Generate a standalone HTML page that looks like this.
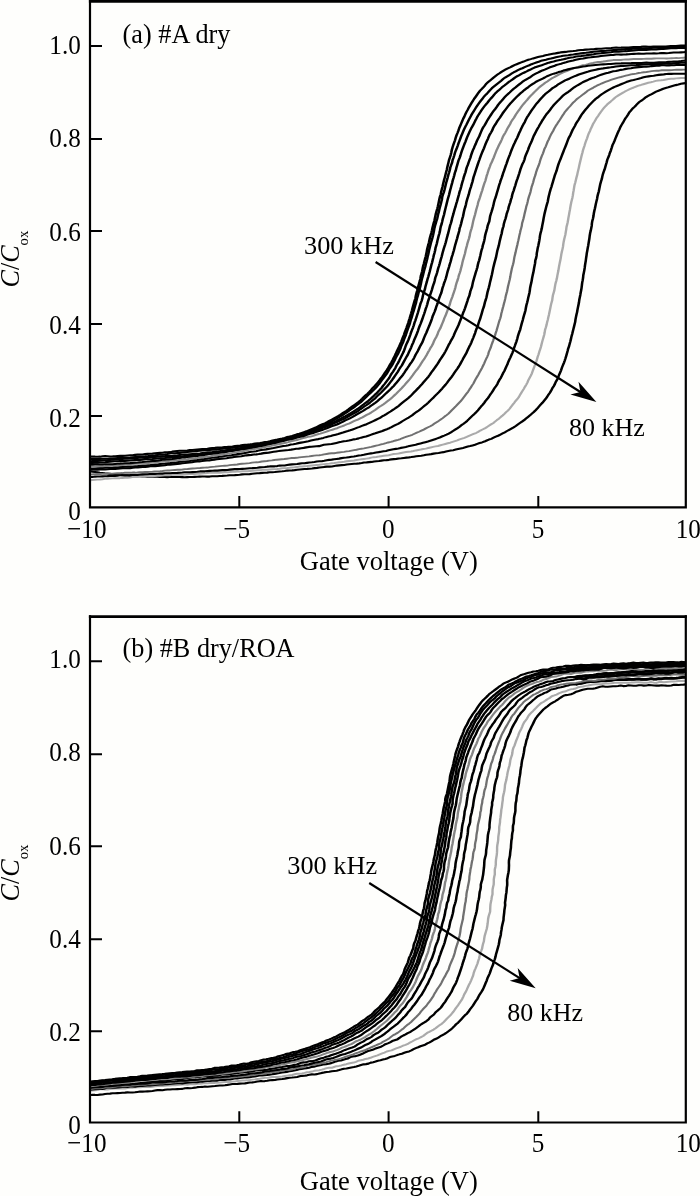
<!DOCTYPE html>
<html lang="en">
<head>
<meta charset="utf-8">
<title>C-V curves</title>
<style>
html,body{margin:0;padding:0;background:#fefefc;}
body{width:700px;height:1196px;overflow:hidden;position:relative;font-family:"Liberation Serif",serif;color:#000;}
svg{position:absolute;left:0;top:0;display:block;}
text{font-family:"Liberation Serif",serif;fill:#000;}
.fr{fill:none;stroke:#000;stroke-width:2.2;}
.fr2{fill:none;stroke:#000;stroke-width:2.7;}
.tk{stroke:#000;stroke-width:2;fill:none;}
.cv path{fill:none;stroke-linejoin:round;stroke-linecap:butt;}
.it{font-style:italic;}
</style>
</head>
<body>
<svg width="700" height="1196" viewBox="0 0 700 1196">
<rect x="0" y="0" width="700" height="1196" fill="#fefefc"/>
<g class="cv">
<g transform="scale(1,0.820)">
<path d="M90.0,574.8 L92.5,575.4 L95.0,575.7 L97.5,576.1 L99.9,576.5 L102.4,576.8 L104.9,577.2 L107.4,577.4 L109.9,577.9 L112.4,578.4 L114.9,578.6 L117.4,578.8 L119.8,579.1 L122.3,579.4 L124.8,579.6 L127.3,579.7 L129.8,580.0 L132.3,580.3 L134.8,580.5 L137.3,580.6 L139.8,580.8 L142.3,581.1 L144.8,581.1 L147.3,581.4 L149.7,581.5 L152.3,581.4 L154.7,581.4 L157.2,581.4 L159.7,581.6 L162.2,581.8 L164.7,581.7 L167.2,581.9 L169.7,581.8 L172.2,581.8 L174.7,581.8 L177.2,581.7 L179.7,581.7 L182.2,581.9 L184.7,582.1 L187.2,581.9 L189.7,581.8 L192.2,581.7 L194.7,581.6 L197.2,581.5 L199.7,581.2 L202.2,581.0 L204.7,581.1 L207.2,581.3 L209.7,581.2 L212.2,580.8 L214.7,580.8 L217.2,580.7 L219.7,580.4 L222.2,580.3 L224.7,580.1 L227.2,579.9 L229.7,579.6 L232.2,579.5 L234.7,579.4 L237.2,579.2 L239.7,579.0 L242.2,578.5 L244.7,578.3 L247.2,578.4 L249.7,578.2 L252.2,577.7 L254.7,577.4 L257.2,577.1 L259.7,577.0 L262.2,576.7 L264.7,576.6 L267.2,576.4 L269.7,576.0 L272.2,575.9 L274.7,575.7 L277.2,575.3 L279.7,574.9 L282.2,574.7 L284.6,574.4 L287.1,573.9 L289.6,573.7 L292.1,573.6 L294.6,573.3 L297.1,572.9 L299.6,572.5 L302.1,572.2 L304.5,571.9 L307.0,571.8 L309.5,571.6 L312.0,571.3 L314.5,570.9 L317.0,570.6 L319.5,570.2 L321.9,569.8 L324.4,569.4 L326.9,569.1 L329.4,569.1 L331.9,568.8 L334.4,568.3 L336.8,567.8 L339.3,567.5 L341.8,567.2 L344.3,567.0 L346.8,566.5 L349.2,566.2 L351.7,565.9 L354.2,565.6 L356.7,565.4 L359.2,565.1 L361.7,564.7 L364.1,564.1 L366.6,563.9 L369.1,563.6 L371.6,563.3 L374.1,562.7 L376.5,562.4 L379.0,562.1 L381.5,561.7 L384.0,561.3 L386.5,561.1 L389.0,560.8 L391.4,560.2 L393.9,559.9 L396.4,559.6 L398.9,559.2 L401.4,558.9 L403.9,558.5 L406.4,558.1 L408.9,557.8 L411.3,557.4 L413.8,556.9 L416.3,556.4 L418.8,556.0 L421.3,555.7 L423.8,555.2 L426.2,554.6 L428.7,554.2 L431.2,553.8 L433.6,553.2 L436.1,552.8 L438.6,552.4 L441.1,551.9 L443.5,551.4 L446.0,550.7 L448.4,550.1 L450.8,549.5 L453.3,549.0 L455.7,548.3 L458.1,547.6 L460.6,546.9 L463.0,546.2 L465.4,545.4 L467.8,544.6 L470.2,544.0 L472.6,543.2 L475.0,542.4 L477.3,541.3 L479.6,540.3 L482.0,539.5 L484.4,538.5 L486.7,537.2 L488.9,536.1 L491.3,535.2 L493.6,533.8 L495.8,532.5 L498.1,531.4 L500.4,530.0 L502.6,528.6 L504.8,527.2 L507.0,525.6 L509.2,524.1 L511.4,522.6 L513.6,521.1 L515.8,519.5 L517.8,517.7 L519.9,515.9 L522.0,514.2 L524.1,512.4 L526.0,510.4 L528.0,508.4 L530.0,506.5 L531.9,504.4 L533.8,502.4 L535.6,500.3 L537.4,498.1 L539.0,495.7 L540.6,493.4 L542.4,491.2 L544.0,488.9 L545.6,486.5 L547.1,484.0 L548.4,481.4 L549.9,478.9 L551.2,476.3 L552.3,473.6 L553.7,471.0 L554.9,468.3 L555.9,465.5 L557.2,462.9 L558.2,460.1 L559.1,457.1 L560.1,454.3 L561.1,451.5 L561.9,448.5 L562.8,445.7 L563.8,442.8 L564.7,439.9 L565.5,436.9 L566.2,434.0 L566.9,431.0 L567.6,428.0 L568.2,425.1 L569.1,422.1 L569.7,419.2 L570.4,416.2 L571.0,413.2 L571.5,410.3 L572.2,407.3 L572.8,404.3 L573.4,401.4 L574.0,398.4 L574.6,395.5 L575.2,392.5 L575.5,389.5 L576.0,386.5 L576.5,383.5 L577.1,380.6 L577.5,377.6 L578.0,374.6 L578.5,371.6 L579.0,368.6 L579.3,365.6 L579.8,362.7 L580.3,359.7 L580.7,356.7 L581.2,353.7 L581.6,350.7 L581.9,347.7 L582.2,344.7 L582.7,341.7 L583.1,338.7 L583.3,335.7 L583.8,332.7 L584.3,329.7 L584.7,326.7 L585.0,323.7 L585.4,320.7 L585.8,317.7 L586.1,314.7 L586.5,311.7 L586.8,308.6 L587.3,305.6 L587.7,302.6 L588.2,299.6 L588.6,296.6 L589.0,293.6 L589.4,290.6 L589.7,287.5 L590.1,284.5 L590.7,281.5 L591.2,278.5 L591.7,275.5 L591.9,272.4 L592.3,269.4 L593.0,266.4 L593.5,263.4 L593.8,260.4 L594.3,257.3 L594.9,254.3 L595.4,251.3 L595.9,248.3 L596.5,245.3 L597.1,242.3 L597.5,239.3 L598.1,236.3 L598.8,233.4 L599.3,230.3 L599.8,227.3 L600.3,224.3 L601.0,221.4 L601.8,218.4 L602.3,215.4 L602.9,212.4 L603.7,209.5 L604.6,206.6 L605.3,203.7 L606.0,200.7 L606.7,197.8 L607.3,194.8 L608.3,191.9 L609.2,189.1 L610.0,186.1 L610.9,183.3 L611.7,180.3 L612.4,177.4 L613.5,174.6 L614.5,171.8 L615.4,168.9 L616.4,166.1 L617.3,163.3 L618.3,160.5 L619.4,157.7 L620.4,154.9 L621.6,152.3 L622.9,149.8 L624.1,147.1 L625.3,144.6 L626.8,142.1 L628.1,139.7 L629.3,137.1 L630.9,134.9 L632.4,132.6 L634.2,130.6 L635.9,128.6 L637.6,126.4 L639.3,124.4 L641.4,122.8 L643.3,121.0 L645.2,119.1 L647.3,117.5 L649.5,116.1 L651.7,114.7 L653.9,113.2 L656.1,111.7 L658.5,110.6 L660.9,109.5 L663.3,108.2 L665.7,107.3 L668.3,106.5 L670.8,105.5 L673.3,104.6 L675.8,103.8 L678.4,103.1 L681.0,102.2 L683.6,101.7 L686.2,101.2" stroke="#000" stroke-width="2.55"/>
<path d="M90.0,585.6 L92.5,585.3 L95.0,585.0 L97.5,584.9 L100.0,584.8 L102.5,584.5 L104.9,584.0 L107.4,583.8 L109.9,583.6 L112.4,583.4 L114.9,583.3 L117.4,583.2 L119.9,583.1 L122.4,582.8 L124.9,582.7 L127.4,582.7 L129.9,582.3 L132.4,581.8 L134.8,581.6 L137.4,581.6 L139.8,581.2 L142.3,581.1 L144.8,581.1 L147.3,580.8 L149.8,580.7 L152.3,580.7 L154.8,580.5 L157.3,580.2 L159.8,580.1 L162.3,579.8 L164.8,579.7 L167.3,579.7 L169.8,579.5 L172.3,579.1 L174.8,579.0 L177.3,578.9 L179.8,578.7 L182.3,578.9 L184.8,578.7 L187.3,578.3 L189.8,578.0 L192.3,578.1 L194.8,578.0 L197.3,577.8 L199.8,577.8 L202.3,577.5 L204.8,577.3 L207.3,577.0 L209.8,576.7 L212.3,576.4 L214.8,576.5 L217.3,576.5 L219.8,576.4 L222.3,576.2 L224.8,576.0 L227.3,575.9 L229.8,575.7 L232.3,575.4 L234.8,575.2 L237.3,575.1 L239.8,575.0 L242.3,574.8 L244.8,574.8 L247.3,574.6 L249.8,574.3 L252.3,574.1 L254.8,573.7 L257.3,573.5 L259.8,573.4 L262.2,573.0 L264.7,572.9 L267.2,572.8 L269.7,572.5 L272.2,572.3 L274.7,572.1 L277.2,572.0 L279.7,571.6 L282.2,571.1 L284.7,570.9 L287.2,570.8 L289.6,570.5 L292.1,570.1 L294.6,569.9 L297.1,569.4 L299.5,569.0 L302.0,568.9 L304.5,568.6 L307.0,568.4 L309.5,567.9 L312.0,567.6 L314.4,567.3 L316.9,567.0 L319.4,566.7 L321.9,566.3 L324.4,566.0 L326.8,565.7 L329.3,565.4 L331.8,565.0 L334.3,564.7 L336.7,564.2 L339.2,563.8 L341.7,563.5 L344.2,563.1 L346.6,562.6 L349.1,562.1 L351.6,561.8 L354.1,561.6 L356.5,561.0 L359.0,560.5 L361.5,560.1 L364.0,559.7 L366.4,559.3 L368.9,558.9 L371.3,558.1 L373.8,557.5 L376.3,557.2 L378.8,556.8 L381.2,556.3 L383.7,555.8 L386.2,555.5 L388.7,555.2 L391.1,554.4 L393.6,553.7 L396.1,553.5 L398.6,553.0 L401.0,552.4 L403.5,551.8 L406.0,551.3 L408.5,550.9 L411.0,550.6 L413.4,550.0 L415.9,549.3 L418.3,548.7 L420.8,548.2 L423.3,547.6 L425.8,547.1 L428.2,546.4 L430.6,545.7 L433.1,545.0 L435.5,544.4 L438.0,543.9 L440.4,543.0 L442.8,542.2 L445.3,541.4 L447.7,540.6 L450.2,539.9 L452.5,538.9 L454.9,538.0 L457.3,537.1 L459.6,535.9 L462.0,534.9 L464.4,533.9 L466.7,532.8 L469.0,531.6 L471.3,530.4 L473.6,529.2 L476.0,528.1 L478.2,526.7 L480.3,525.1 L482.5,523.8 L484.8,522.5 L486.9,520.9 L488.9,519.1 L491.0,517.5 L493.1,516.1 L495.0,514.2 L496.9,512.3 L498.9,510.6 L500.7,508.6 L502.6,506.7 L504.4,504.7 L506.1,502.6 L507.9,500.7 L509.6,498.5 L511.1,496.1 L512.5,493.8 L514.1,491.4 L515.5,489.1 L517.2,486.8 L518.7,484.5 L519.9,481.9 L521.2,479.3 L522.5,476.7 L523.8,474.2 L525.0,471.6 L526.3,469.0 L527.5,466.3 L528.4,463.5 L529.6,460.8 L530.8,458.1 L531.9,455.3 L532.7,452.4 L533.6,449.6 L534.5,446.7 L535.4,443.8 L536.3,440.9 L537.0,438.0 L537.7,435.0 L538.6,432.1 L539.3,429.1 L540.1,426.2 L540.9,423.2 L541.5,420.2 L542.1,417.2 L542.8,414.2 L543.5,411.2 L544.2,408.2 L544.7,405.2 L545.1,402.1 L545.9,399.1 L546.6,396.1 L547.1,393.1 L547.8,390.1 L548.3,387.1 L548.9,384.1 L549.4,381.1 L549.9,378.1 L550.4,375.1 L550.9,372.1 L551.5,369.1 L552.2,366.2 L552.5,363.2 L552.9,360.1 L553.6,357.2 L554.3,354.3 L554.7,351.3 L555.1,348.3 L555.6,345.3 L556.3,342.4 L556.9,339.4 L557.3,336.4 L557.8,333.4 L558.3,330.5 L558.7,327.5 L559.1,324.5 L559.6,321.5 L560.1,318.6 L560.6,315.6 L561.0,312.6 L561.4,309.6 L561.9,306.7 L562.5,303.8 L563.0,300.8 L563.3,297.8 L563.7,294.8 L564.2,291.8 L564.8,288.9 L565.4,285.9 L565.8,282.9 L566.2,280.0 L566.5,276.9 L567.1,274.0 L567.7,271.0 L568.1,268.0 L568.5,265.0 L569.0,262.0 L569.4,259.0 L569.9,256.0 L570.3,253.0 L570.7,250.0 L571.2,247.0 L571.8,244.1 L572.4,241.1 L572.9,238.0 L573.2,235.0 L573.7,232.0 L574.1,228.9 L574.5,225.9 L575.2,222.9 L575.8,219.9 L576.4,216.8 L577.1,213.8 L577.6,210.8 L578.2,207.7 L578.8,204.7 L579.3,201.6 L579.9,198.5 L580.5,195.4 L581.1,192.4 L581.7,189.3 L582.4,186.3 L583.0,183.2 L583.8,180.3 L584.6,177.3 L585.3,174.3 L586.2,171.4 L587.1,168.5 L587.9,165.5 L588.8,162.6 L589.9,159.9 L590.8,157.1 L591.9,154.3 L592.9,151.6 L594.2,149.0 L595.4,146.4 L596.6,143.8 L598.1,141.4 L599.4,138.9 L600.8,136.5 L602.3,134.2 L603.8,131.8 L605.4,129.6 L607.1,127.5 L608.9,125.6 L610.8,123.7 L612.6,121.8 L614.4,119.8 L616.3,117.9 L618.4,116.3 L620.5,114.8 L622.6,113.3 L624.7,111.8 L627.0,110.4 L629.2,109.1 L631.5,107.8 L633.8,106.7 L636.1,105.5 L638.5,104.4 L641.0,103.6 L643.4,102.7 L645.9,101.8 L648.3,100.9 L650.8,100.3 L653.3,99.5 L655.8,98.6 L658.4,98.1 L661.0,97.9 L663.5,97.5 L666.1,96.9 L668.6,96.4 L671.1,96.1 L673.7,96.0 L676.2,95.6 L678.7,95.3 L681.1,95.1 L683.6,95.1 L686.0,95.0" stroke="#aaaaaa" stroke-width="2.40"/>
<path d="M90.0,581.7 L92.5,581.6 L95.0,581.2 L97.5,581.1 L100.0,581.0 L102.5,580.9 L105.0,580.8 L107.5,580.6 L109.9,580.3 L112.4,580.3 L114.9,580.3 L117.4,580.0 L119.9,579.6 L122.4,579.5 L124.9,579.7 L127.4,579.6 L129.9,579.4 L132.4,579.1 L134.9,578.9 L137.4,578.9 L139.9,578.7 L142.4,578.5 L144.9,578.4 L147.4,578.3 L149.9,578.1 L152.4,577.9 L154.9,577.9 L157.4,577.7 L159.9,577.6 L162.4,577.6 L164.9,577.2 L167.4,577.1 L169.9,577.1 L172.4,576.9 L174.9,576.8 L177.4,576.7 L179.9,576.5 L182.4,576.3 L184.9,575.9 L187.4,575.9 L189.9,576.0 L192.4,575.8 L194.9,575.6 L197.4,575.3 L199.9,574.9 L202.4,574.8 L204.9,574.8 L207.4,574.5 L209.9,574.2 L212.4,574.0 L214.9,573.9 L217.4,573.9 L219.9,573.6 L222.4,573.3 L224.9,573.3 L227.4,573.2 L229.9,572.7 L232.4,572.4 L234.8,572.1 L237.4,572.1 L239.9,572.0 L242.3,571.8 L244.9,571.7 L247.3,571.3 L249.8,571.0 L252.3,570.9 L254.8,570.7 L257.3,570.4 L259.8,570.0 L262.3,569.8 L264.8,569.6 L267.2,569.1 L269.7,568.8 L272.2,568.8 L274.7,568.7 L277.2,568.4 L279.7,567.8 L282.2,567.7 L284.7,567.6 L287.1,567.1 L289.6,566.6 L292.1,566.3 L294.6,566.2 L297.1,565.9 L299.5,565.4 L302.0,565.0 L304.5,564.9 L307.0,564.5 L309.4,564.1 L311.9,563.8 L314.4,563.4 L316.8,562.9 L319.3,562.6 L321.8,562.4 L324.3,561.9 L326.7,561.3 L329.2,560.8 L331.7,560.5 L334.1,560.1 L336.6,559.7 L339.1,559.3 L341.5,558.7 L344.0,558.3 L346.5,558.0 L348.9,557.5 L351.4,557.0 L353.9,556.7 L356.4,556.2 L358.8,555.5 L361.3,555.1 L363.8,554.6 L366.2,554.0 L368.7,553.4 L371.1,552.9 L373.6,552.4 L376.1,551.8 L378.6,551.4 L381.0,550.9 L383.5,550.4 L386.0,549.9 L388.4,549.2 L390.9,548.5 L393.4,547.9 L395.9,547.4 L398.4,546.9 L400.8,546.2 L403.3,545.6 L405.8,545.0 L408.2,544.3 L410.7,543.5 L413.2,542.9 L415.7,542.4 L418.1,541.6 L420.6,540.8 L423.0,540.0 L425.4,539.2 L427.9,538.4 L430.3,537.5 L432.6,536.6 L435.0,535.6 L437.3,534.6 L439.7,533.6 L441.9,532.3 L444.2,531.2 L446.5,530.0 L448.7,528.7 L450.9,527.2 L453.0,525.6 L455.1,524.0 L457.2,522.4 L459.2,520.7 L461.1,518.8 L463.2,517.1 L465.2,515.3 L467.1,513.3 L468.9,511.2 L470.7,509.0 L472.5,506.9 L474.4,504.8 L476.2,502.7 L477.9,500.4 L479.5,498.1 L481.1,495.7 L482.8,493.4 L484.4,491.0 L485.8,488.5 L487.5,486.2 L489.0,483.7 L490.3,481.1 L491.8,478.6 L493.1,476.1 L494.4,473.5 L495.9,471.0 L497.3,468.5 L498.3,465.8 L499.5,463.1 L500.9,460.6 L502.0,457.9 L503.0,455.2 L504.3,452.6 L505.3,449.8 L506.3,447.1 L507.4,444.4 L508.2,441.5 L509.2,438.8 L510.3,436.1 L511.3,433.3 L512.3,430.6 L513.2,427.8 L513.9,424.9 L514.8,422.0 L515.6,419.2 L516.5,416.3 L517.2,413.4 L517.8,410.5 L518.5,407.6 L519.3,404.7 L520.2,401.9 L520.8,398.9 L521.4,396.0 L522.1,393.0 L522.8,390.1 L523.4,387.1 L524.1,384.2 L524.8,381.3 L525.5,378.3 L525.9,375.3 L526.4,372.3 L527.1,369.3 L527.7,366.3 L528.2,363.3 L528.8,360.3 L529.4,357.3 L529.8,354.3 L530.1,351.2 L530.6,348.2 L531.2,345.2 L531.7,342.2 L532.1,339.1 L532.6,336.1 L533.2,333.0 L533.7,330.0 L534.1,326.9 L534.6,323.9 L535.1,320.9 L535.3,317.8 L536.1,314.8 L536.6,311.8 L536.8,308.7 L537.3,305.6 L537.7,302.6 L538.3,299.6 L538.8,296.6 L539.3,293.5 L539.7,290.5 L540.0,287.4 L540.5,284.4 L541.2,281.4 L541.8,278.4 L542.2,275.4 L542.7,272.4 L543.2,269.3 L543.6,266.3 L544.1,263.3 L544.6,260.3 L545.2,257.4 L545.8,254.4 L546.4,251.4 L547.1,248.5 L547.8,245.6 L548.2,242.6 L548.7,239.6 L549.3,236.7 L549.9,233.7 L550.6,230.8 L551.4,228.0 L552.1,225.1 L552.8,222.2 L553.5,219.3 L554.2,216.4 L554.9,213.5 L555.8,210.6 L556.7,207.8 L557.3,204.9 L558.0,202.0 L558.8,199.1 L559.7,196.3 L560.7,193.4 L561.6,190.6 L562.5,187.7 L563.4,184.9 L564.3,182.0 L565.3,179.1 L566.2,176.3 L567.1,173.4 L568.0,170.4 L569.0,167.6 L570.3,164.9 L571.3,162.1 L572.3,159.2 L573.5,156.5 L574.8,153.8 L575.9,151.0 L577.2,148.4 L578.6,145.9 L579.9,143.2 L581.2,140.6 L582.6,138.2 L584.1,135.8 L585.7,133.4 L587.3,131.2 L588.9,128.9 L590.6,126.7 L592.3,124.6 L594.0,122.5 L595.8,120.5 L597.8,118.8 L599.7,116.9 L601.7,115.0 L603.7,113.4 L605.8,111.7 L608.0,110.2 L610.2,108.8 L612.3,107.3 L614.6,105.9 L616.9,104.8 L619.3,103.7 L621.6,102.5 L623.9,101.3 L626.3,100.1 L628.7,99.1 L631.1,98.2 L633.6,97.6 L636.1,96.8 L638.6,96.0 L641.1,95.2 L643.5,94.3 L646.0,93.5 L648.6,93.1 L651.1,92.7 L653.7,92.4 L656.2,91.8 L658.7,91.3 L661.3,91.0 L663.8,90.7 L666.3,90.3 L668.8,90.1 L671.3,90.1 L673.8,89.9 L676.3,89.9 L678.7,89.9 L681.2,89.9 L683.6,90.0 L686.0,89.9" stroke="#000" stroke-width="2.55"/>
<path d="M90.0,578.5 L92.5,578.4 L95.0,578.2 L97.5,578.0 L100.0,578.0 L102.4,577.9 L104.9,577.7 L107.4,577.6 L109.9,577.6 L112.4,577.6 L114.9,577.3 L117.4,577.1 L119.9,577.2 L122.4,576.9 L124.9,576.5 L127.4,576.5 L129.9,576.5 L132.4,576.3 L134.9,576.3 L137.4,576.1 L140.0,575.8 L142.5,575.7 L145.0,575.6 L147.5,575.6 L150.0,575.5 L152.5,575.2 L155.0,574.8 L157.5,574.8 L160.0,574.7 L162.5,574.4 L165.0,574.0 L167.5,573.8 L170.0,573.7 L172.5,573.4 L175.0,573.1 L177.5,572.9 L180.0,572.8 L182.5,572.5 L185.0,572.1 L187.5,572.0 L190.0,571.7 L192.5,571.4 L195.0,571.2 L197.5,570.9 L200.0,570.8 L202.5,570.5 L204.9,570.3 L207.4,570.2 L209.9,569.7 L212.4,569.3 L214.9,569.1 L217.3,568.7 L219.8,568.4 L222.3,568.2 L224.8,568.0 L227.3,567.8 L229.7,567.3 L232.2,566.9 L234.7,566.7 L237.2,566.5 L239.6,565.9 L242.1,565.6 L244.6,565.4 L247.1,565.1 L249.6,564.8 L252.0,564.2 L254.5,563.9 L257.0,563.8 L259.5,563.4 L261.9,562.8 L264.4,562.5 L266.9,562.2 L269.3,561.7 L271.8,561.4 L274.3,561.0 L276.8,560.6 L279.3,560.3 L281.7,560.0 L284.2,559.8 L286.7,559.4 L289.2,559.0 L291.7,558.6 L294.2,558.5 L296.7,558.3 L299.2,557.8 L301.7,557.5 L304.2,557.2 L306.7,556.9 L309.2,556.6 L311.7,556.1 L314.1,555.6 L316.7,555.4 L319.2,555.2 L321.7,554.8 L324.1,554.1 L326.6,553.6 L329.1,553.1 L331.6,552.8 L334.1,552.7 L336.6,552.2 L339.1,551.8 L341.6,551.4 L344.1,551.0 L346.6,550.5 L349.1,550.1 L351.6,549.5 L354.1,549.0 L356.5,548.5 L359.0,547.8 L361.5,547.3 L363.9,546.8 L366.4,546.2 L368.9,545.6 L371.3,545.0 L373.8,544.2 L376.2,543.4 L378.6,542.8 L381.1,542.0 L383.5,541.3 L385.9,540.5 L388.3,539.6 L390.8,538.9 L393.2,538.1 L395.6,537.2 L398.0,536.4 L400.4,535.4 L402.7,534.2 L405.1,533.2 L407.5,532.1 L409.9,531.2 L412.3,530.2 L414.5,528.9 L416.8,527.6 L419.1,526.5 L421.4,525.2 L423.7,523.9 L425.9,522.4 L428.1,521.1 L430.3,519.8 L432.5,518.2 L434.5,516.5 L436.6,514.9 L438.7,513.3 L440.7,511.6 L442.7,509.9 L444.6,508.0 L446.6,506.2 L448.5,504.4 L450.2,502.3 L451.9,500.1 L453.7,498.0 L455.4,496.0 L457.1,493.8 L458.8,491.6 L460.5,489.5 L462.1,487.1 L463.6,484.8 L465.1,482.4 L466.6,480.0 L468.1,477.6 L469.4,475.1 L470.8,472.6 L472.1,470.0 L473.5,467.5 L474.6,464.8 L475.8,462.1 L477.1,459.5 L478.4,456.9 L479.5,454.2 L480.7,451.6 L481.9,448.9 L483.0,446.1 L484.1,443.4 L485.1,440.6 L486.1,437.8 L487.2,435.1 L488.2,432.3 L488.8,429.3 L489.8,426.5 L490.8,423.7 L491.5,420.7 L492.4,417.8 L493.3,415.0 L494.1,412.0 L495.0,409.2 L495.7,406.2 L496.5,403.3 L497.2,400.3 L497.9,397.4 L498.6,394.4 L499.3,391.4 L500.2,388.5 L500.9,385.5 L501.3,382.5 L502.0,379.5 L502.6,376.5 L503.3,373.5 L503.9,370.5 L504.6,367.5 L505.2,364.5 L505.7,361.5 L506.3,358.5 L507.0,355.5 L507.5,352.5 L508.0,349.4 L508.6,346.5 L509.2,343.5 L509.8,340.5 L510.3,337.5 L510.7,334.4 L511.2,331.4 L511.7,328.4 L512.3,325.5 L513.0,322.5 L513.6,319.6 L514.0,316.6 L514.4,313.6 L515.0,310.6 L515.6,307.7 L516.1,304.7 L516.7,301.8 L517.3,298.8 L517.8,295.9 L518.4,292.9 L518.9,290.0 L519.4,287.0 L520.0,284.1 L520.5,281.1 L521.2,278.2 L521.8,275.3 L522.1,272.3 L522.8,269.4 L523.5,266.5 L524.1,263.5 L524.6,260.6 L525.2,257.6 L525.8,254.7 L526.3,251.7 L527.1,248.8 L527.7,245.9 L528.2,242.9 L528.9,239.9 L529.7,237.1 L530.5,234.1 L531.0,231.2 L531.6,228.2 L532.4,225.3 L533.2,222.3 L533.8,219.3 L534.5,216.4 L535.4,213.5 L536.0,210.5 L536.8,207.5 L537.7,204.6 L538.7,201.7 L539.5,198.7 L540.2,195.8 L541.0,192.8 L541.9,189.9 L543.0,187.0 L543.8,184.1 L544.6,181.2 L545.8,178.4 L546.7,175.5 L547.6,172.7 L548.8,169.9 L549.8,167.1 L550.9,164.3 L552.1,161.7 L553.4,159.1 L554.5,156.3 L555.7,153.7 L557.1,151.2 L558.4,148.7 L559.8,146.2 L561.1,143.7 L562.4,141.2 L563.8,138.7 L565.1,136.2 L566.7,134.0 L568.3,131.7 L570.0,129.6 L571.5,127.4 L573.1,125.2 L574.9,123.2 L576.6,121.1 L578.5,119.3 L580.5,117.5 L582.4,115.7 L584.3,114.0 L586.2,112.2 L588.1,110.3 L590.3,108.9 L592.5,107.5 L594.6,105.9 L596.8,104.5 L599.1,103.3 L601.4,101.9 L603.7,100.7 L606.1,99.6 L608.5,98.5 L610.9,97.5 L613.3,96.5 L615.8,95.5 L618.3,94.6 L620.8,93.9 L623.3,93.1 L625.8,92.3 L628.4,91.5 L630.9,90.7 L633.5,90.3 L636.1,89.7 L638.7,89.0 L641.2,88.6 L643.8,88.1 L646.4,87.8 L649.0,87.3 L651.6,86.8 L654.1,86.5 L656.7,86.3 L659.3,86.2 L661.8,85.7 L664.3,85.5 L666.8,85.6 L669.3,85.6 L671.8,85.5 L674.2,85.2 L676.6,85.0 L679.0,85.1 L681.3,85.0 L683.6,84.9 L685.9,84.9" stroke="#707070" stroke-width="2.30"/>
<path d="M89.9,572.9 L92.4,572.8 L95.0,572.9 L97.5,572.7 L100.1,572.6 L102.6,572.6 L105.1,572.5 L107.7,572.3 L110.2,572.0 L112.7,571.8 L115.2,571.8 L117.7,571.7 L120.2,571.3 L122.8,571.1 L125.3,571.1 L127.8,571.0 L130.3,570.9 L132.8,570.5 L135.3,570.2 L137.8,570.0 L140.2,569.7 L142.7,569.5 L145.2,569.4 L147.7,569.2 L150.2,568.7 L152.7,568.4 L155.1,568.4 L157.6,568.1 L160.1,567.8 L162.6,567.7 L165.0,567.3 L167.5,566.8 L170.0,566.6 L172.4,566.3 L174.9,566.0 L177.4,565.7 L179.8,565.4 L182.3,565.0 L184.8,564.7 L187.2,564.3 L189.7,564.0 L192.1,563.7 L194.6,563.2 L197.1,562.9 L199.5,562.7 L202.0,562.3 L204.4,561.8 L206.9,561.5 L209.4,561.4 L211.8,561.0 L214.3,560.6 L216.7,560.1 L219.2,559.7 L221.7,559.3 L224.1,559.1 L226.6,558.8 L229.1,558.3 L231.5,557.8 L234.0,557.2 L236.4,556.9 L238.9,556.7 L241.4,556.4 L243.9,555.9 L246.3,555.3 L248.8,555.0 L251.3,554.7 L253.8,554.3 L256.3,554.1 L258.7,553.7 L261.2,553.2 L263.7,552.6 L266.2,552.3 L268.7,552.0 L271.1,551.5 L273.6,551.0 L276.1,550.5 L278.6,550.1 L281.1,549.6 L283.6,549.3 L286.1,549.0 L288.6,548.7 L291.2,548.3 L293.7,547.8 L296.2,547.3 L298.7,547.1 L301.2,546.6 L303.7,546.2 L306.3,545.6 L308.8,545.0 L311.3,544.8 L313.9,544.5 L316.4,544.3 L319.0,544.1 L321.4,543.2 L323.9,542.4 L326.5,542.1 L329.0,541.8 L331.5,541.5 L334.0,540.8 L336.5,540.1 L339.0,539.4 L341.4,538.8 L343.9,538.1 L346.4,537.8 L348.9,537.3 L351.4,536.5 L353.8,535.8 L356.3,535.3 L358.7,534.6 L361.1,533.7 L363.5,532.9 L366.0,532.2 L368.3,531.3 L370.7,530.3 L373.0,529.3 L375.4,528.4 L377.7,527.4 L380.1,526.5 L382.4,525.6 L384.7,524.4 L387.0,523.4 L389.3,522.2 L391.5,520.9 L393.7,519.5 L395.8,518.1 L398.1,516.9 L400.2,515.4 L402.3,513.7 L404.4,512.2 L406.5,510.7 L408.7,509.2 L410.7,507.6 L412.8,505.9 L414.7,504.0 L416.7,502.2 L418.8,500.6 L420.7,498.7 L422.6,496.8 L424.5,494.9 L426.5,493.0 L428.3,491.0 L430.0,488.8 L431.8,486.7 L433.6,484.7 L435.3,482.5 L437.1,480.4 L438.9,478.2 L440.5,476.0 L442.2,473.8 L443.8,471.4 L445.5,469.2 L447.1,466.8 L448.5,464.3 L450.0,462.0 L451.6,459.6 L453.1,457.1 L454.4,454.6 L455.8,452.1 L457.3,449.6 L458.7,447.1 L460.0,444.5 L461.2,441.8 L462.4,439.2 L463.5,436.5 L464.8,433.8 L466.1,431.2 L467.1,428.5 L468.1,425.7 L469.2,422.9 L470.4,420.3 L471.4,417.5 L472.3,414.7 L473.3,411.9 L474.2,409.0 L475.1,406.2 L475.8,403.3 L476.7,400.5 L477.8,397.7 L478.4,394.7 L479.2,391.8 L480.1,388.9 L480.8,386.0 L481.5,383.1 L482.2,380.1 L482.9,377.2 L483.8,374.3 L484.4,371.3 L485.0,368.3 L485.8,365.4 L486.5,362.4 L487.0,359.4 L487.5,356.4 L488.2,353.4 L488.9,350.4 L489.5,347.4 L490.0,344.4 L490.6,341.4 L491.2,338.4 L491.8,335.4 L492.3,332.4 L492.8,329.4 L493.3,326.4 L493.9,323.4 L494.5,320.4 L495.2,317.4 L495.9,314.4 L496.4,311.4 L496.9,308.4 L497.4,305.4 L498.1,302.5 L498.8,299.5 L499.3,296.5 L499.8,293.5 L500.4,290.6 L501.0,287.6 L501.7,284.7 L502.1,281.7 L502.7,278.7 L503.5,275.8 L503.9,272.8 L504.6,269.9 L505.4,267.0 L506.1,264.1 L506.6,261.1 L507.4,258.3 L508.2,255.4 L508.7,252.4 L509.5,249.5 L510.3,246.6 L510.9,243.7 L511.7,240.8 L512.2,237.8 L512.9,234.9 L513.8,232.0 L514.5,229.1 L515.3,226.2 L516.0,223.3 L516.7,220.4 L517.6,217.5 L518.4,214.6 L519.2,211.7 L519.9,208.8 L520.6,205.9 L521.5,203.0 L522.4,200.1 L523.6,197.4 L524.5,194.5 L525.1,191.5 L526.0,188.6 L527.0,185.8 L528.0,182.9 L528.8,180.0 L529.8,177.1 L530.9,174.3 L531.9,171.5 L532.8,168.6 L533.7,165.8 L534.9,163.1 L536.1,160.3 L537.2,157.6 L538.5,155.0 L539.7,152.3 L541.0,149.7 L542.2,147.1 L543.6,144.6 L544.9,142.0 L546.3,139.6 L547.9,137.3 L549.5,135.0 L550.9,132.5 L552.4,130.2 L553.9,127.9 L555.6,125.7 L557.3,123.6 L559.1,121.5 L560.8,119.4 L562.5,117.2 L564.4,115.3 L566.4,113.6 L568.4,112.0 L570.4,110.2 L572.3,108.3 L574.2,106.5 L576.3,104.9 L578.4,103.4 L580.5,101.9 L582.7,100.3 L584.9,99.1 L587.2,97.9 L589.4,96.6 L591.7,95.4 L594.1,94.5 L596.4,93.4 L598.7,92.2 L601.1,91.2 L603.5,90.2 L605.9,89.3 L608.4,88.6 L610.8,87.7 L613.3,87.0 L615.8,86.6 L618.3,85.9 L620.8,85.2 L623.4,84.7 L625.9,84.0 L628.4,83.6 L631.0,83.2 L633.5,82.6 L636.1,82.2 L638.6,81.9 L641.2,81.7 L643.8,81.4 L646.3,81.2 L648.9,81.0 L651.4,80.6 L654.0,80.3 L656.5,80.2 L659.1,80.0 L661.6,79.6 L664.1,79.6 L666.6,79.8 L669.1,79.7 L671.5,79.6 L674.0,79.5 L676.4,79.3 L678.8,79.2 L681.2,79.2 L683.6,79.2 L685.9,79.3" stroke="#000" stroke-width="2.55"/>
<path d="M89.9,571.1 L92.4,571.1 L95.0,571.0 L97.5,570.9 L100.1,570.8 L102.6,570.6 L105.1,570.3 L107.7,570.3 L110.2,570.4 L112.7,570.3 L115.3,570.0 L117.8,569.8 L120.3,569.6 L122.8,569.4 L125.3,569.2 L127.8,569.0 L130.3,569.0 L132.8,568.9 L135.3,568.6 L137.8,568.3 L140.3,567.9 L142.8,567.7 L145.3,567.6 L147.8,567.3 L150.3,567.1 L152.8,566.8 L155.2,566.6 L157.7,566.4 L160.2,565.9 L162.7,565.6 L165.1,565.4 L167.6,565.1 L170.1,564.8 L172.5,564.4 L175.0,564.2 L177.5,563.6 L179.9,563.1 L182.4,563.0 L184.9,562.8 L187.3,562.5 L189.8,562.2 L192.2,561.6 L194.7,561.2 L197.1,560.9 L199.6,560.5 L202.1,560.1 L204.5,559.8 L207.0,559.3 L209.4,558.7 L211.9,558.3 L214.3,558.1 L216.8,557.8 L219.2,557.1 L221.7,556.7 L224.2,556.2 L226.6,555.8 L229.1,555.5 L231.5,555.1 L234.0,554.6 L236.5,554.1 L238.9,553.5 L241.4,553.2 L243.9,552.7 L246.3,552.2 L248.7,551.5 L251.2,551.0 L253.7,550.7 L256.2,550.2 L258.6,549.5 L261.1,548.8 L263.6,548.5 L266.0,548.0 L268.5,547.4 L271.0,546.9 L273.5,546.4 L276.0,545.8 L278.4,545.2 L280.9,544.6 L283.4,544.0 L285.9,543.5 L288.4,542.9 L290.9,542.1 L293.4,541.7 L295.9,541.1 L298.4,540.4 L300.9,539.8 L303.4,539.2 L305.9,538.6 L308.4,538.0 L310.9,537.3 L313.4,536.6 L315.9,536.0 L318.4,535.5 L320.9,534.8 L323.4,534.0 L325.8,533.1 L328.3,532.4 L330.8,531.7 L333.2,530.9 L335.7,530.1 L338.2,529.3 L340.6,528.4 L343.0,527.5 L345.4,526.5 L347.8,525.7 L350.2,524.8 L352.6,523.8 L354.9,522.7 L357.3,521.5 L359.6,520.6 L361.9,519.4 L364.3,518.3 L366.6,517.3 L368.9,516.0 L371.1,514.7 L373.3,513.5 L375.6,512.2 L377.8,510.9 L380.0,509.6 L382.1,507.9 L384.2,506.5 L386.3,505.0 L388.4,503.4 L390.5,501.8 L392.5,500.2 L394.6,498.5 L396.6,496.8 L398.6,495.1 L400.5,493.1 L402.3,491.2 L404.2,489.3 L406.2,487.4 L408.1,485.6 L410.0,483.6 L411.7,481.5 L413.4,479.3 L415.2,477.2 L416.9,475.0 L418.6,472.9 L420.3,470.6 L422.0,468.4 L423.6,466.1 L425.2,463.8 L426.9,461.5 L428.5,459.2 L430.0,456.7 L431.3,454.2 L432.9,451.7 L434.3,449.3 L435.8,446.8 L437.3,444.3 L438.6,441.7 L439.9,439.1 L441.3,436.5 L442.7,434.0 L444.1,431.4 L445.3,428.8 L446.5,426.0 L447.6,423.3 L448.7,420.5 L450.0,417.9 L451.1,415.2 L452.4,412.5 L453.5,409.8 L454.5,406.9 L455.5,404.2 L456.6,401.4 L457.7,398.6 L458.7,395.9 L459.6,393.0 L460.5,390.2 L461.4,387.3 L462.3,384.5 L463.1,381.6 L464.1,378.8 L465.0,375.9 L465.8,373.0 L466.6,370.1 L467.4,367.2 L468.1,364.3 L469.1,361.5 L469.8,358.6 L470.3,355.5 L471.1,352.7 L472.0,349.8 L472.5,346.8 L473.0,343.8 L473.7,340.8 L474.4,337.9 L475.1,335.0 L475.8,332.0 L476.6,329.1 L477.3,326.2 L477.8,323.2 L478.4,320.2 L479.2,317.3 L479.8,314.3 L480.4,311.3 L480.9,308.3 L481.5,305.3 L482.3,302.4 L482.8,299.4 L483.5,296.5 L484.2,293.5 L484.7,290.5 L485.1,287.5 L485.7,284.5 L486.4,281.6 L487.1,278.7 L487.6,275.7 L488.4,272.7 L489.3,269.9 L489.7,266.9 L490.1,263.8 L490.8,260.9 L491.6,258.0 L492.3,255.1 L493.0,252.2 L493.6,249.2 L494.1,246.2 L494.8,243.3 L495.7,240.4 L496.4,237.5 L497.1,234.5 L497.8,231.6 L498.5,228.7 L499.2,225.7 L500.0,222.8 L500.7,219.9 L501.6,217.1 L502.4,214.2 L503.1,211.3 L504.0,208.4 L504.8,205.5 L505.6,202.6 L506.5,199.7 L507.3,196.8 L508.1,193.9 L509.0,191.1 L510.0,188.2 L510.8,185.3 L511.7,182.5 L512.7,179.6 L513.7,176.8 L514.8,174.0 L515.8,171.2 L517.0,168.4 L518.0,165.6 L519.0,162.7 L520.1,159.9 L521.1,157.1 L522.2,154.3 L523.4,151.6 L524.7,149.0 L525.7,146.1 L526.9,143.4 L528.3,140.9 L529.6,138.3 L531.0,135.8 L532.4,133.3 L533.9,130.8 L535.3,128.4 L536.8,126.0 L538.4,123.8 L540.0,121.5 L541.6,119.3 L543.3,117.1 L545.0,115.0 L546.9,113.2 L548.9,111.3 L550.7,109.4 L552.6,107.4 L554.7,106.0 L556.7,104.4 L558.7,102.5 L560.8,101.1 L563.0,99.6 L565.1,98.1 L567.4,96.9 L569.7,95.7 L571.9,94.4 L574.2,93.2 L576.5,92.1 L578.8,90.9 L581.2,89.9 L583.6,89.0 L586.0,88.1 L588.4,87.3 L590.9,86.4 L593.3,85.7 L595.8,85.0 L598.2,84.3 L600.7,83.8 L603.2,83.4 L605.8,82.9 L608.3,82.5 L610.8,82.1 L613.3,81.6 L615.8,81.1 L618.4,80.7 L620.9,80.5 L623.5,80.3 L626.0,80.2 L628.6,79.8 L631.1,79.5 L633.7,79.5 L636.2,79.4 L638.7,79.2 L641.3,78.8 L643.8,78.5 L646.3,78.3 L648.8,78.3 L651.3,78.1 L653.9,78.0 L656.4,77.9 L658.9,77.8 L661.4,77.9 L663.8,77.8 L666.3,77.7 L668.8,77.6 L671.3,77.6 L673.7,77.2 L676.2,77.0 L678.6,76.9 L681.1,76.6 L683.5,76.6 L685.9,76.5" stroke="#000" stroke-width="2.55"/>
<path d="M89.9,569.3 L92.5,569.5 L95.0,569.2 L97.5,568.9 L100.0,568.6 L102.6,568.5 L105.1,568.4 L107.6,568.1 L110.1,568.0 L112.6,567.8 L115.1,567.7 L117.6,567.6 L120.2,567.5 L122.6,567.1 L125.1,566.7 L127.6,566.3 L130.1,566.2 L132.6,566.0 L135.1,565.7 L137.6,565.5 L140.1,565.3 L142.6,565.2 L145.1,565.2 L147.6,564.9 L150.1,564.5 L152.5,564.1 L155.0,563.8 L157.5,563.6 L160.0,563.2 L162.5,562.9 L165.0,562.8 L167.4,562.5 L169.9,562.0 L172.4,561.8 L174.9,561.6 L177.3,561.4 L179.8,561.0 L182.3,560.6 L184.7,560.3 L187.2,560.1 L189.7,559.5 L192.1,559.3 L194.6,559.0 L197.1,558.6 L199.5,558.1 L202.0,557.5 L204.5,557.2 L206.9,556.9 L209.4,556.6 L211.9,556.1 L214.3,555.6 L216.8,555.2 L219.2,554.8 L221.7,554.5 L224.2,553.9 L226.6,553.6 L229.1,553.2 L231.6,552.6 L234.0,552.0 L236.5,551.4 L238.9,551.0 L241.4,550.6 L243.9,550.0 L246.3,549.4 L248.7,548.6 L251.2,548.1 L253.7,547.7 L256.1,547.2 L258.6,546.7 L261.1,546.4 L263.6,545.7 L266.0,545.0 L268.5,544.4 L271.0,543.8 L273.4,543.1 L275.9,542.4 L278.3,541.7 L280.8,541.1 L283.3,540.6 L285.8,539.9 L288.3,539.2 L290.7,538.3 L293.1,537.5 L295.6,536.9 L298.1,536.2 L300.6,535.3 L303.0,534.3 L305.5,533.5 L307.9,532.8 L310.5,532.4 L313.0,531.6 L315.3,530.5 L317.8,529.6 L320.3,528.8 L322.7,527.9 L325.1,526.9 L327.5,525.9 L329.9,524.9 L332.4,524.1 L334.8,523.1 L337.2,522.2 L339.5,521.0 L341.8,519.9 L344.2,518.9 L346.5,517.6 L348.9,516.6 L351.1,515.3 L353.4,514.0 L355.7,512.8 L357.9,511.6 L360.2,510.3 L362.4,509.0 L364.6,507.5 L366.7,506.0 L368.9,504.7 L371.1,503.2 L373.1,501.5 L375.1,499.9 L377.1,498.1 L379.1,496.4 L381.2,494.9 L383.2,493.3 L385.2,491.5 L387.1,489.7 L389.1,487.9 L391.0,486.0 L392.8,484.0 L394.5,482.0 L396.3,479.9 L398.0,477.8 L399.8,475.8 L401.5,473.6 L403.1,471.4 L404.8,469.3 L406.4,466.9 L408.0,464.7 L409.7,462.5 L411.2,460.1 L412.7,457.7 L414.1,455.2 L415.6,452.8 L417.2,450.5 L418.7,448.0 L420.1,445.5 L421.3,442.9 L422.7,440.3 L424.2,437.9 L425.5,435.2 L426.8,432.6 L427.9,429.9 L429.2,427.2 L430.4,424.5 L431.8,421.9 L433.0,419.2 L433.9,416.3 L435.0,413.5 L436.3,410.9 L437.4,408.1 L438.2,405.1 L439.4,402.4 L440.6,399.7 L441.5,396.8 L442.5,393.9 L443.5,391.1 L444.3,388.1 L445.4,385.3 L446.3,382.5 L447.2,379.6 L448.1,376.7 L449.0,373.8 L449.9,370.9 L450.5,367.9 L451.4,365.0 L452.3,362.2 L453.1,359.2 L453.9,356.3 L454.7,353.4 L455.4,350.5 L456.0,347.4 L456.7,344.5 L457.6,341.6 L458.3,338.6 L458.9,335.7 L459.8,332.7 L460.5,329.8 L461.1,326.8 L461.8,323.9 L462.3,320.8 L462.9,317.8 L463.6,314.9 L464.3,311.9 L465.0,309.0 L465.5,306.0 L466.1,303.0 L466.8,300.0 L467.4,297.0 L468.1,294.1 L468.9,291.2 L469.6,288.2 L470.0,285.2 L470.6,282.2 L471.4,279.3 L472.1,276.3 L472.6,273.3 L473.1,270.3 L473.7,267.3 L474.4,264.4 L475.1,261.5 L475.7,258.5 L476.3,255.5 L477.0,252.6 L477.7,249.6 L478.2,246.7 L479.1,243.8 L479.9,240.9 L480.6,238.0 L481.4,235.1 L482.2,232.2 L482.9,229.3 L483.6,226.4 L484.4,223.5 L485.3,220.7 L486.0,217.8 L486.6,214.8 L487.4,211.9 L488.1,209.1 L488.9,206.2 L489.8,203.3 L490.6,200.5 L491.8,197.8 L492.7,195.0 L493.7,192.2 L494.6,189.4 L495.5,186.6 L496.4,183.8 L497.5,181.0 L498.5,178.3 L499.6,175.5 L500.8,172.9 L501.8,170.1 L502.7,167.3 L503.9,164.6 L505.2,162.0 L506.4,159.3 L507.5,156.6 L508.8,154.0 L510.1,151.4 L511.1,148.6 L512.5,146.0 L514.0,143.6 L515.3,140.9 L516.6,138.3 L518.1,135.8 L519.6,133.4 L521.0,130.8 L522.5,128.4 L524.1,126.1 L525.7,123.8 L527.4,121.5 L529.0,119.1 L530.6,116.9 L532.4,114.8 L534.1,112.6 L535.9,110.6 L537.7,108.5 L539.4,106.4 L541.3,104.5 L543.3,102.7 L545.2,100.9 L547.3,99.3 L549.3,97.6 L551.3,95.9 L553.5,94.5 L555.6,93.1 L557.8,91.6 L559.9,90.2 L562.1,88.8 L564.4,87.6 L566.7,86.6 L569.0,85.6 L571.3,84.2 L573.6,83.2 L576.0,82.4 L578.4,81.5 L580.7,80.5 L583.1,79.6 L585.6,79.1 L588.0,78.4 L590.5,77.5 L593.0,76.9 L595.4,76.2 L597.9,75.7 L600.5,75.5 L603.0,75.1 L605.5,74.6 L608.0,74.1 L610.6,73.7 L613.1,73.3 L615.7,73.1 L618.3,73.2 L620.8,73.1 L623.4,72.7 L626.0,72.5 L628.5,72.5 L631.1,72.2 L633.7,72.0 L636.2,71.9 L638.8,71.8 L641.4,71.9 L643.9,71.8 L646.5,71.5 L649.0,71.6 L651.5,71.6 L654.1,71.3 L656.6,71.2 L659.1,71.2 L661.6,71.2 L664.1,71.2 L666.6,71.3 L669.0,71.2 L671.5,71.0 L673.9,70.9 L676.3,70.8 L678.8,70.9 L681.1,70.6 L683.5,70.3 L685.9,70.2" stroke="#858585" stroke-width="2.40"/>
<path d="M90.0,566.6 L92.5,566.6 L95.0,566.3 L97.5,566.3 L100.0,566.5 L102.5,566.4 L105.0,566.2 L107.5,566.1 L110.0,566.1 L112.5,566.1 L115.0,565.8 L117.5,565.5 L120.0,565.4 L122.5,565.2 L125.0,564.9 L127.5,564.9 L130.0,564.8 L132.5,564.5 L135.0,564.4 L137.5,564.1 L139.9,563.7 L142.4,563.5 L144.9,563.1 L147.4,562.9 L149.9,562.6 L152.4,562.2 L154.9,562.0 L157.4,561.8 L159.9,561.3 L162.3,560.7 L164.8,560.5 L167.4,560.4 L169.8,560.1 L172.3,559.8 L174.8,559.3 L177.3,558.9 L179.8,558.5 L182.3,558.0 L184.8,557.9 L187.2,557.4 L189.7,557.0 L192.2,556.6 L194.7,556.3 L197.2,556.0 L199.6,555.5 L202.1,555.1 L204.6,554.7 L207.1,554.1 L209.5,553.7 L212.0,553.3 L214.5,552.9 L217.0,552.6 L219.4,552.2 L221.9,551.9 L224.4,551.5 L226.9,550.8 L229.3,550.4 L231.8,550.0 L234.3,549.4 L236.7,548.8 L239.2,548.3 L241.6,547.9 L244.1,547.5 L246.6,547.0 L249.0,546.4 L251.5,545.9 L253.9,545.3 L256.4,544.7 L258.9,544.3 L261.3,543.8 L263.8,543.2 L266.2,542.5 L268.7,541.8 L271.1,541.1 L273.6,540.5 L276.0,539.9 L278.4,539.0 L280.9,538.3 L283.3,537.8 L285.8,536.9 L288.2,536.1 L290.7,535.6 L293.1,535.0 L295.5,534.1 L297.9,533.2 L300.4,532.5 L302.9,531.9 L305.3,531.0 L307.7,529.9 L310.1,529.0 L312.6,528.3 L314.9,527.3 L317.3,526.3 L319.7,525.3 L322.1,524.3 L324.5,523.3 L326.8,522.2 L329.1,521.0 L331.5,519.8 L333.9,518.9 L336.3,518.0 L338.6,516.8 L340.9,515.5 L343.1,514.1 L345.3,512.7 L347.6,511.5 L349.9,510.1 L352.1,508.8 L354.3,507.3 L356.4,505.7 L358.6,504.2 L360.8,502.7 L362.9,501.2 L365.0,499.5 L367.1,497.9 L369.3,496.4 L371.3,494.6 L373.3,492.9 L375.4,491.2 L377.3,489.3 L379.2,487.3 L381.1,485.4 L382.9,483.4 L384.7,481.3 L386.5,479.2 L388.3,477.2 L390.1,475.1 L391.8,472.9 L393.6,470.8 L395.2,468.5 L396.8,466.2 L398.4,463.9 L399.9,461.5 L401.5,459.2 L403.1,456.8 L404.5,454.3 L405.8,451.7 L407.3,449.2 L408.7,446.7 L410.0,444.1 L411.5,441.7 L412.9,439.1 L414.1,436.4 L415.2,433.6 L416.4,431.0 L417.7,428.3 L418.8,425.6 L419.9,422.8 L421.1,420.1 L422.4,417.4 L423.3,414.5 L424.2,411.6 L425.2,408.8 L426.3,406.0 L427.2,403.2 L428.2,400.3 L429.2,397.5 L430.1,394.6 L431.1,391.7 L431.9,388.8 L432.6,385.9 L433.6,383.0 L434.6,380.2 L435.5,377.3 L436.2,374.4 L437.1,371.5 L437.9,368.6 L438.6,365.7 L439.4,362.9 L440.3,360.0 L441.3,357.2 L441.9,354.3 L442.5,351.3 L443.3,348.5 L444.0,345.6 L444.9,342.7 L445.7,339.9 L446.4,337.0 L447.0,334.0 L447.6,331.1 L448.3,328.3 L449.1,325.4 L449.7,322.5 L450.5,319.6 L451.1,316.7 L451.7,313.7 L452.5,310.9 L453.2,308.0 L453.9,305.1 L454.5,302.2 L455.1,299.2 L455.8,296.3 L456.5,293.4 L457.2,290.5 L457.8,287.6 L458.5,284.7 L459.2,281.7 L459.6,278.7 L460.4,275.8 L461.1,272.9 L461.7,269.9 L462.3,266.9 L463.0,264.0 L463.5,261.0 L464.0,257.9 L464.6,254.9 L465.4,252.0 L466.0,249.0 L466.5,245.9 L467.2,242.9 L468.0,239.9 L468.8,237.0 L469.4,233.9 L470.1,230.9 L470.9,228.0 L471.6,225.0 L472.4,222.0 L473.0,218.9 L473.6,215.9 L474.4,213.0 L475.2,210.0 L476.0,207.0 L476.8,204.0 L477.6,201.1 L478.4,198.2 L479.3,195.2 L480.1,192.3 L481.0,189.4 L481.9,186.6 L482.9,183.7 L483.9,180.9 L484.8,178.0 L485.7,175.2 L486.7,172.4 L487.8,169.6 L488.7,166.8 L489.8,164.0 L491.1,161.4 L492.3,158.8 L493.2,155.9 L494.4,153.3 L495.9,150.8 L497.1,148.2 L498.5,145.7 L500.0,143.3 L501.3,140.8 L502.6,138.3 L504.1,135.8 L505.6,133.5 L507.1,131.1 L508.6,128.7 L510.2,126.5 L511.9,124.3 L513.5,122.1 L515.2,119.9 L516.9,117.8 L518.7,115.8 L520.5,113.8 L522.4,111.9 L524.2,109.9 L526.1,108.1 L528.1,106.5 L530.0,104.6 L532.0,102.9 L534.1,101.3 L536.1,99.7 L538.3,98.4 L540.5,97.1 L542.7,95.8 L544.8,94.5 L547.0,93.0 L549.2,91.9 L551.5,90.7 L553.8,89.8 L556.2,89.0 L558.6,87.9 L560.9,87.1 L563.3,86.1 L565.7,85.3 L568.1,84.6 L570.6,83.9 L573.0,83.3 L575.5,82.7 L578.0,82.2 L580.5,81.7 L583.0,81.1 L585.5,80.7 L588.0,80.1 L590.5,79.9 L593.1,79.6 L595.6,79.3 L598.1,79.0 L600.7,78.7 L603.2,78.5 L605.8,78.3 L608.3,78.0 L610.9,78.0 L613.4,77.7 L616.0,77.5 L618.5,77.4 L621.1,77.3 L623.7,77.1 L626.2,77.1 L628.8,77.1 L631.3,77.0 L633.8,76.8 L636.4,76.8 L638.9,76.9 L641.4,76.8 L644.0,76.6 L646.5,76.4 L649.0,76.6 L651.5,76.7 L654.0,76.5 L656.5,76.2 L659.0,76.1 L661.5,76.1 L664.0,76.0 L666.4,75.8 L668.9,75.5 L671.3,75.4 L673.8,75.2 L676.2,75.0 L678.6,74.8 L681.1,74.5 L683.5,74.1 L685.9,73.9" stroke="#000" stroke-width="2.55"/>
<path d="M90.0,564.9 L92.5,564.5 L95.0,564.2 L97.5,564.2 L100.0,564.0 L102.5,564.0 L105.0,563.7 L107.5,563.3 L110.0,563.0 L112.4,562.7 L114.9,562.5 L117.4,562.5 L119.9,562.3 L122.4,562.2 L124.9,562.0 L127.4,561.9 L129.9,561.6 L132.4,561.3 L134.9,561.1 L137.4,560.9 L139.9,560.8 L142.4,560.5 L144.9,559.9 L147.4,559.7 L149.9,560.0 L152.4,559.8 L154.9,559.3 L157.4,559.1 L159.9,559.0 L162.4,558.8 L164.8,558.5 L167.3,558.1 L169.8,557.8 L172.3,557.6 L174.8,557.4 L177.3,557.4 L179.8,557.1 L182.3,556.7 L184.8,556.2 L187.3,555.9 L189.8,555.7 L192.3,555.6 L194.7,555.3 L197.2,555.0 L199.7,554.5 L202.2,553.9 L204.7,553.8 L207.2,553.5 L209.7,553.2 L212.1,552.8 L214.6,552.1 L217.1,551.8 L219.6,551.6 L222.1,551.3 L224.5,550.8 L227.0,550.4 L229.5,549.9 L231.9,549.3 L234.4,548.9 L236.9,548.4 L239.4,547.9 L241.9,547.5 L244.4,547.3 L246.8,546.7 L249.2,545.8 L251.7,545.4 L254.2,544.9 L256.7,544.4 L259.1,543.7 L261.6,543.0 L264.0,542.4 L266.5,541.8 L269.0,541.2 L271.4,540.5 L273.8,539.7 L276.3,538.9 L278.7,538.1 L281.2,537.6 L283.7,536.9 L286.1,536.1 L288.5,535.3 L291.0,534.4 L293.4,533.8 L295.8,532.7 L298.2,531.8 L300.8,531.3 L303.2,530.3 L305.6,529.3 L308.0,528.4 L310.4,527.4 L312.8,526.4 L315.2,525.3 L317.6,524.2 L320.0,523.2 L322.3,522.1 L324.7,521.0 L327.0,520.0 L329.4,518.8 L331.6,517.4 L333.9,516.2 L336.3,515.1 L338.5,513.7 L340.8,512.4 L343.1,511.3 L345.3,510.0 L347.5,508.5 L349.6,506.9 L351.8,505.4 L353.9,504.0 L356.1,502.5 L358.2,501.0 L360.2,499.2 L362.2,497.5 L364.2,495.8 L366.2,494.2 L368.2,492.5 L370.2,490.7 L372.1,488.8 L374.0,487.0 L375.7,485.0 L377.4,482.8 L379.2,480.8 L381.0,478.8 L382.7,476.7 L384.4,474.6 L386.1,472.5 L387.7,470.3 L389.2,468.0 L390.7,465.6 L392.2,463.2 L393.6,460.8 L395.0,458.3 L396.4,455.9 L397.8,453.4 L399.0,450.8 L400.3,448.2 L401.8,445.7 L403.0,443.0 L404.2,440.3 L405.4,437.7 L406.6,435.0 L407.9,432.3 L408.9,429.5 L410.0,426.7 L411.1,423.8 L412.0,421.0 L413.1,418.1 L414.0,415.2 L415.0,412.3 L416.0,409.5 L417.0,406.6 L417.9,403.6 L418.7,400.6 L419.6,397.7 L420.6,394.8 L421.5,391.9 L422.4,388.9 L423.2,385.9 L424.1,383.0 L424.9,380.0 L425.6,377.0 L426.5,374.1 L427.3,371.1 L427.9,368.0 L428.7,365.1 L429.6,362.2 L430.3,359.2 L431.1,356.3 L431.9,353.4 L432.6,350.4 L433.3,347.5 L434.2,344.7 L434.8,341.7 L435.3,338.7 L436.2,335.9 L437.0,333.0 L437.6,330.1 L438.2,327.1 L439.0,324.3 L439.7,321.4 L440.3,318.5 L441.0,315.6 L441.7,312.7 L442.3,309.8 L442.9,306.9 L443.6,304.0 L444.3,301.2 L445.1,298.3 L445.8,295.4 L446.4,292.5 L447.0,289.6 L447.7,286.7 L448.3,283.8 L448.9,280.9 L449.5,278.0 L450.1,275.1 L450.9,272.2 L451.6,269.3 L452.1,266.3 L452.8,263.4 L453.5,260.5 L454.1,257.6 L454.8,254.6 L455.6,251.7 L456.2,248.8 L457.0,245.8 L457.6,242.9 L458.3,239.9 L459.0,236.9 L459.6,233.9 L460.4,231.0 L461.1,228.0 L461.7,225.0 L462.4,221.9 L463.2,219.0 L463.8,216.0 L464.6,213.0 L465.5,210.0 L466.1,207.0 L466.8,204.0 L467.8,201.1 L468.6,198.2 L469.5,195.2 L470.4,192.3 L471.1,189.3 L471.9,186.4 L472.8,183.5 L473.9,180.7 L474.8,177.8 L475.9,175.0 L476.8,172.1 L477.9,169.4 L479.1,166.7 L480.0,163.8 L481.0,161.0 L482.0,158.2 L483.1,155.5 L484.5,153.0 L485.8,150.4 L486.9,147.7 L488.2,145.1 L489.5,142.6 L490.9,140.1 L492.3,137.6 L493.7,135.1 L495.3,132.8 L496.7,130.4 L498.1,127.9 L499.6,125.6 L501.3,123.4 L502.9,121.1 L504.5,118.8 L506.2,116.6 L508.0,114.6 L509.8,112.6 L511.6,110.5 L513.4,108.5 L515.4,106.7 L517.2,104.8 L519.2,102.9 L521.1,101.1 L523.1,99.2 L525.1,97.6 L527.3,96.1 L529.5,94.7 L531.5,92.9 L533.5,91.2 L535.7,89.9 L537.9,88.6 L540.1,87.2 L542.4,85.9 L544.7,84.9 L547.0,83.6 L549.3,82.4 L551.6,81.5 L554.0,80.6 L556.3,79.3 L558.7,78.5 L561.1,77.7 L563.5,76.7 L566.0,75.9 L568.4,75.0 L570.8,74.3 L573.3,73.7 L575.8,73.0 L578.3,72.3 L580.7,71.7 L583.3,71.3 L585.7,70.6 L588.3,70.2 L590.8,69.9 L593.3,69.4 L595.8,69.2 L598.3,68.8 L600.9,68.4 L603.4,68.0 L605.9,67.6 L608.4,67.3 L611.0,67.0 L613.5,66.9 L616.0,66.5 L618.6,66.4 L621.1,66.6 L623.7,66.4 L626.2,66.3 L628.7,66.1 L631.2,65.8 L633.8,65.7 L636.3,65.6 L638.8,65.4 L641.4,65.5 L643.9,65.5 L646.4,65.3 L648.9,65.2 L651.4,65.2 L653.9,65.1 L656.4,65.2 L658.9,65.0 L661.4,64.7 L663.9,64.8 L666.4,65.0 L668.8,64.7 L671.3,64.3 L673.7,64.1 L676.2,64.1 L678.6,64.1 L681.1,63.9 L683.5,63.8 L685.9,63.5" stroke="#000" stroke-width="2.55"/>
<path d="M90.0,562.5 L92.5,562.1 L95.0,562.1 L97.5,562.1 L100.0,561.8 L102.5,561.4 L105.0,561.2 L107.5,561.1 L109.9,560.9 L112.4,560.7 L114.9,560.4 L117.4,560.2 L119.9,559.8 L122.4,559.6 L124.9,559.5 L127.4,559.3 L129.9,559.1 L132.4,559.1 L134.9,558.9 L137.4,558.5 L139.9,558.3 L142.4,558.2 L144.9,558.2 L147.4,558.0 L149.9,557.7 L152.4,557.4 L154.9,557.2 L157.4,557.1 L159.9,556.9 L162.4,556.6 L164.9,556.3 L167.4,556.2 L169.9,556.1 L172.4,555.9 L174.9,555.6 L177.4,555.3 L179.9,554.9 L182.4,554.6 L184.9,554.4 L187.4,554.2 L189.9,553.9 L192.4,553.7 L195.0,553.5 L197.5,553.3 L200.0,553.0 L202.4,552.5 L204.9,552.1 L207.4,551.7 L209.9,551.5 L212.4,551.2 L214.9,550.7 L217.4,550.5 L219.9,550.1 L222.4,549.5 L224.8,549.2 L227.3,548.7 L229.8,548.3 L232.3,548.0 L234.8,547.6 L237.3,547.1 L239.8,546.6 L242.2,546.1 L244.7,545.6 L247.2,545.2 L249.6,544.5 L252.1,543.8 L254.6,543.4 L257.0,542.7 L259.4,541.8 L261.9,541.4 L264.4,541.0 L266.9,540.4 L269.4,539.8 L271.8,539.1 L274.3,538.4 L276.7,537.7 L279.1,536.9 L281.6,536.1 L284.0,535.5 L286.5,534.7 L288.9,533.9 L291.4,533.1 L293.8,532.2 L296.2,531.3 L298.6,530.5 L301.1,529.6 L303.5,528.7 L305.9,527.7 L308.3,526.7 L310.7,525.9 L313.1,524.8 L315.4,523.6 L317.8,522.6 L320.2,521.6 L322.6,520.5 L324.9,519.3 L327.2,518.2 L329.6,517.0 L331.8,515.7 L334.1,514.5 L336.4,513.2 L338.6,511.8 L340.8,510.5 L343.0,509.1 L345.2,507.7 L347.4,506.2 L349.5,504.7 L351.7,503.3 L353.8,501.7 L355.8,500.0 L357.9,498.4 L359.9,496.7 L361.8,494.9 L363.8,493.1 L365.7,491.3 L367.7,489.5 L369.5,487.6 L371.3,485.6 L373.1,483.6 L374.8,481.5 L376.7,479.6 L378.3,477.3 L380.0,475.2 L381.6,473.0 L383.0,470.6 L384.6,468.3 L386.1,465.9 L387.6,463.5 L389.1,461.1 L390.3,458.4 L391.5,455.8 L393.0,453.3 L394.4,450.7 L395.6,448.1 L396.7,445.3 L398.0,442.7 L399.2,439.9 L400.3,437.1 L401.4,434.3 L402.5,431.5 L403.7,428.7 L404.6,425.8 L405.4,422.8 L406.3,419.9 L407.5,417.1 L408.5,414.2 L409.4,411.3 L410.3,408.3 L411.1,405.3 L412.0,402.4 L413.0,399.5 L413.8,396.6 L414.5,393.6 L415.4,390.7 L416.2,387.7 L417.0,384.8 L417.8,381.8 L418.5,378.8 L419.2,375.9 L419.9,372.9 L420.6,369.9 L421.6,367.1 L422.3,364.1 L422.8,361.1 L423.4,358.1 L424.2,355.2 L425.0,352.3 L425.5,349.3 L426.2,346.4 L426.9,343.4 L427.5,340.5 L428.3,337.6 L428.9,334.7 L429.6,331.7 L430.2,328.8 L430.8,325.9 L431.4,323.0 L432.1,320.1 L432.7,317.1 L433.3,314.2 L433.8,311.3 L434.5,308.4 L435.1,305.5 L435.5,302.5 L436.2,299.6 L436.9,296.7 L437.4,293.8 L438.0,290.8 L438.6,287.9 L439.3,285.0 L439.9,282.1 L440.3,279.1 L440.8,276.1 L441.6,273.3 L442.2,270.3 L442.7,267.4 L443.4,264.4 L444.1,261.5 L444.6,258.6 L445.2,255.6 L445.8,252.6 L446.4,249.6 L447.0,246.7 L447.6,243.7 L448.3,240.7 L449.0,237.8 L449.6,234.8 L450.2,231.8 L450.9,228.8 L451.5,225.8 L452.2,222.8 L452.8,219.8 L453.6,216.8 L454.3,213.8 L454.9,210.7 L455.8,207.8 L456.4,204.7 L457.1,201.7 L457.8,198.7 L458.5,195.7 L459.5,192.8 L460.4,189.8 L461.1,186.8 L461.9,183.9 L462.8,181.0 L463.7,178.1 L464.6,175.1 L465.6,172.3 L466.5,169.4 L467.4,166.5 L468.5,163.7 L469.5,160.9 L470.6,158.2 L471.7,155.4 L473.0,152.8 L474.1,150.1 L475.2,147.3 L476.4,144.7 L477.5,142.0 L478.8,139.5 L480.2,137.0 L481.5,134.5 L482.9,132.0 L484.4,129.6 L486.0,127.3 L487.5,125.1 L489.0,122.7 L490.6,120.4 L492.3,118.3 L493.8,116.0 L495.4,113.7 L497.2,111.7 L499.1,109.8 L500.9,107.8 L502.7,105.7 L504.7,103.9 L506.6,102.1 L508.5,100.2 L510.6,98.5 L512.6,96.8 L514.6,95.0 L516.6,93.3 L518.9,91.9 L521.0,90.4 L523.3,89.0 L525.5,87.8 L527.7,86.3 L530.0,85.1 L532.2,83.7 L534.5,82.4 L536.9,81.4 L539.2,80.4 L541.7,79.5 L544.0,78.5 L546.4,77.5 L548.8,76.4 L551.2,75.5 L553.7,74.9 L556.1,74.1 L558.6,73.5 L561.1,72.9 L563.6,72.2 L566.1,71.5 L568.5,70.7 L571.0,70.2 L573.6,69.7 L576.0,69.0 L578.6,68.5 L581.1,68.2 L583.6,67.8 L586.1,67.4 L588.6,66.9 L591.1,66.6 L593.6,66.2 L596.1,65.6 L598.6,65.3 L601.1,65.0 L603.6,64.5 L606.1,64.3 L608.7,64.1 L611.1,63.7 L613.6,63.2 L616.1,63.1 L618.7,63.1 L621.1,62.8 L623.6,62.5 L626.1,62.4 L628.6,62.1 L631.1,61.9 L633.6,61.6 L636.1,61.2 L638.6,61.0 L641.1,60.9 L643.6,60.8 L646.1,60.8 L648.6,60.6 L651.1,60.4 L653.6,60.4 L656.1,60.3 L658.5,60.0 L661.0,59.6 L663.5,59.7 L666.0,59.5 L668.5,59.0 L671.0,58.8 L673.5,58.9 L676.0,58.9 L678.5,58.6 L681.0,58.6 L683.5,58.6 L686.0,58.4" stroke="#000" stroke-width="2.55"/>
<path d="M90.0,559.7 L92.5,559.8 L95.0,559.9 L97.6,559.8 L100.1,559.6 L102.6,559.5 L105.1,559.5 L107.6,559.5 L110.1,559.3 L112.6,559.1 L115.1,558.9 L117.6,558.7 L120.1,558.6 L122.6,558.4 L125.1,558.3 L127.6,558.3 L130.1,558.1 L132.6,557.6 L135.1,557.4 L137.6,557.2 L140.1,557.0 L142.5,556.7 L145.0,556.6 L147.5,556.3 L150.0,555.9 L152.5,555.6 L155.0,555.3 L157.4,554.8 L159.9,554.6 L162.4,554.6 L164.9,554.3 L167.4,553.8 L169.8,553.1 L172.3,552.8 L174.8,552.8 L177.3,552.5 L179.8,552.3 L182.3,551.9 L184.8,551.6 L187.3,551.3 L189.8,551.0 L192.2,550.6 L194.7,550.2 L197.3,550.1 L199.8,549.8 L202.2,549.3 L204.8,549.1 L207.3,548.8 L209.8,548.6 L212.3,548.5 L214.8,548.2 L217.3,547.8 L219.8,547.5 L222.3,547.2 L224.8,546.7 L227.3,546.4 L229.9,546.3 L232.4,545.9 L234.9,545.5 L237.4,545.1 L239.9,544.7 L242.4,544.4 L244.9,544.1 L247.4,543.7 L249.9,543.4 L252.3,542.7 L254.8,541.9 L257.3,541.7 L259.8,541.3 L262.3,540.8 L264.8,540.2 L267.2,539.6 L269.7,538.9 L272.2,538.4 L274.7,538.0 L277.1,537.3 L279.6,536.8 L282.1,536.2 L284.5,535.2 L286.9,534.5 L289.3,533.8 L291.7,532.8 L294.1,531.7 L296.6,531.0 L299.0,530.2 L301.4,529.2 L303.8,528.3 L306.1,527.1 L308.5,526.0 L310.9,525.1 L313.3,524.1 L315.6,522.9 L317.9,521.6 L320.2,520.4 L322.5,519.1 L324.8,517.9 L327.1,516.7 L329.4,515.3 L331.6,513.8 L333.8,512.4 L336.0,510.8 L338.1,509.2 L340.3,507.8 L342.5,506.2 L344.5,504.5 L346.6,502.9 L348.7,501.1 L350.7,499.4 L352.8,497.8 L354.8,496.0 L356.7,494.0 L358.7,492.3 L360.7,490.5 L362.5,488.4 L364.3,486.4 L366.1,484.3 L367.8,482.2 L369.6,480.1 L371.4,478.1 L373.2,476.1 L375.0,474.0 L376.6,471.7 L378.2,469.5 L379.8,467.2 L381.2,464.7 L382.6,462.3 L384.1,459.9 L385.6,457.6 L387.1,455.1 L388.3,452.5 L389.4,449.8 L390.9,447.4 L392.3,444.9 L393.4,442.2 L394.6,439.5 L395.6,436.7 L396.8,434.0 L398.0,431.4 L399.1,428.6 L400.2,425.8 L401.0,422.9 L402.0,420.0 L403.1,417.2 L403.9,414.3 L404.8,411.4 L405.8,408.6 L406.6,405.6 L407.4,402.6 L408.3,399.7 L409.2,396.8 L410.0,393.8 L410.6,390.8 L411.5,387.8 L412.2,384.8 L412.9,381.8 L413.7,378.8 L414.4,375.8 L415.1,372.8 L415.9,369.8 L416.4,366.7 L417.0,363.7 L417.8,360.7 L418.4,357.7 L419.0,354.7 L419.7,351.7 L420.4,348.7 L420.9,345.7 L421.4,342.7 L422.0,339.7 L422.7,336.8 L423.3,333.8 L423.9,330.8 L424.6,327.9 L425.3,325.0 L425.8,322.1 L426.5,319.1 L427.1,316.2 L427.6,313.3 L428.2,310.4 L428.7,307.4 L429.2,304.5 L429.8,301.6 L430.4,298.7 L431.0,295.8 L431.7,292.9 L432.4,290.0 L433.0,287.1 L433.5,284.2 L434.0,281.2 L434.4,278.3 L435.0,275.4 L435.7,272.5 L436.4,269.6 L437.2,266.7 L437.7,263.8 L438.2,260.9 L438.9,258.0 L439.4,255.0 L440.0,252.1 L440.7,249.1 L441.3,246.2 L441.9,243.2 L442.2,240.2 L442.9,237.3 L443.8,234.4 L444.5,231.4 L445.1,228.4 L445.7,225.4 L446.3,222.4 L447.0,219.4 L447.7,216.4 L448.3,213.4 L449.1,210.4 L449.8,207.4 L450.3,204.3 L451.2,201.3 L452.1,198.3 L452.6,195.3 L453.5,192.3 L454.3,189.3 L455.0,186.3 L455.9,183.3 L456.9,180.4 L457.8,177.5 L458.6,174.5 L459.5,171.6 L460.4,168.7 L461.3,165.7 L462.3,162.9 L463.3,160.0 L464.3,157.2 L465.4,154.4 L466.6,151.7 L467.7,149.0 L468.8,146.2 L470.0,143.5 L471.1,140.9 L472.4,138.2 L473.7,135.7 L475.0,133.1 L476.3,130.6 L477.7,128.1 L479.1,125.7 L480.5,123.3 L482.1,121.0 L483.5,118.6 L485.1,116.3 L486.9,114.3 L488.5,112.0 L490.1,109.8 L491.8,107.7 L493.6,105.8 L495.5,103.9 L497.4,102.0 L499.3,100.2 L501.2,98.4 L503.1,96.4 L505.1,94.6 L507.2,93.1 L509.3,91.6 L511.4,89.9 L513.5,88.4 L515.7,87.0 L517.9,85.6 L520.1,84.2 L522.4,83.2 L524.7,81.9 L527.0,80.7 L529.3,79.6 L531.6,78.3 L533.9,77.3 L536.3,76.3 L538.7,75.3 L541.0,74.2 L543.5,73.4 L545.9,72.8 L548.4,72.0 L550.9,71.4 L553.3,70.6 L555.8,69.8 L558.3,69.2 L560.8,68.7 L563.3,68.1 L565.8,67.7 L568.3,67.3 L570.9,66.7 L573.4,66.4 L575.9,65.9 L578.4,65.5 L581.0,65.1 L583.5,64.7 L586.0,64.4 L588.5,64.0 L591.1,63.6 L593.6,63.2 L596.1,62.9 L598.6,62.6 L601.1,62.3 L603.6,62.2 L606.1,61.9 L608.6,61.5 L611.1,61.2 L613.6,61.0 L616.1,61.0 L618.6,60.7 L621.1,60.5 L623.6,60.1 L626.1,59.9 L628.6,59.9 L631.1,59.7 L633.6,59.4 L636.1,59.3 L638.6,59.3 L641.1,59.3 L643.6,59.1 L646.1,58.8 L648.6,58.7 L651.1,58.5 L653.6,58.3 L656.0,58.3 L658.5,58.4 L661.0,58.1 L663.5,57.9 L666.0,57.9 L668.5,57.8 L671.0,57.6 L673.5,57.5 L676.0,57.4 L678.5,57.3 L681.0,57.1 L683.5,57.0 L686.0,56.9" stroke="#000" stroke-width="2.55"/>
<path d="M90.0,556.9 L92.5,556.7 L95.1,556.9 L97.6,557.0 L100.1,556.9 L102.6,556.5 L105.1,556.3 L107.7,556.5 L110.2,556.7 L112.7,556.6 L115.2,556.4 L117.7,556.1 L120.2,555.9 L122.7,555.9 L125.2,555.8 L127.7,555.4 L130.2,555.2 L132.7,555.2 L135.1,554.7 L137.6,554.4 L140.1,554.4 L142.6,554.3 L145.1,553.8 L147.5,553.5 L150.0,553.4 L152.5,553.2 L155.0,552.8 L157.5,552.5 L160.0,552.3 L162.4,552.1 L164.9,551.7 L167.4,551.6 L169.9,551.4 L172.3,550.8 L174.8,550.4 L177.3,550.0 L179.8,549.7 L182.3,549.7 L184.8,549.6 L187.3,549.4 L189.8,548.9 L192.3,548.7 L194.8,548.4 L197.3,548.1 L199.8,547.9 L202.3,547.7 L204.8,547.5 L207.4,547.3 L209.9,546.8 L212.4,546.4 L214.9,546.2 L217.4,545.9 L219.9,545.8 L222.5,545.5 L225.0,545.1 L227.5,545.0 L230.0,544.8 L232.5,544.4 L235.0,543.9 L237.6,543.5 L240.1,543.2 L242.6,542.8 L245.1,542.4 L247.6,542.2 L250.1,541.9 L252.6,541.5 L255.1,540.9 L257.6,540.5 L260.1,540.2 L262.6,539.7 L265.1,539.0 L267.6,538.7 L270.1,538.2 L272.5,537.3 L275.0,536.7 L277.4,536.1 L279.9,535.3 L282.3,534.8 L284.8,534.0 L287.2,533.0 L289.6,532.4 L292.1,531.7 L294.4,530.7 L296.8,529.7 L299.3,529.0 L301.7,528.0 L304.0,527.0 L306.4,526.0 L308.7,524.8 L311.0,523.6 L313.4,522.5 L315.7,521.4 L318.0,519.9 L320.2,518.5 L322.5,517.4 L324.9,516.3 L327.1,514.9 L329.3,513.4 L331.5,511.9 L333.6,510.4 L335.9,508.9 L338.1,507.5 L340.2,505.9 L342.2,504.2 L344.4,502.5 L346.5,500.9 L348.5,499.2 L350.5,497.4 L352.5,495.6 L354.5,493.8 L356.5,492.0 L358.5,490.2 L360.4,488.3 L362.2,486.2 L363.9,484.0 L365.7,482.0 L367.6,480.0 L369.3,477.9 L371.0,475.7 L372.6,473.4 L374.4,471.3 L376.0,469.1 L377.6,466.8 L379.2,464.5 L380.6,462.0 L382.1,459.7 L383.5,457.2 L384.9,454.7 L386.4,452.3 L387.7,449.8 L388.9,447.2 L390.1,444.5 L391.4,442.0 L392.6,439.3 L393.7,436.6 L394.8,433.9 L395.9,431.1 L396.9,428.3 L398.0,425.6 L399.1,422.8 L400.1,420.0 L401.1,417.2 L402.0,414.3 L402.9,411.4 L403.9,408.6 L404.7,405.6 L405.6,402.7 L406.5,399.8 L407.3,396.9 L408.2,394.0 L408.9,391.0 L409.7,388.0 L410.4,385.0 L411.2,382.0 L411.9,379.0 L412.5,375.9 L413.2,372.9 L413.9,369.9 L414.6,366.9 L415.4,363.9 L415.8,360.8 L416.4,357.8 L417.1,354.8 L417.7,351.8 L418.4,348.8 L419.1,345.8 L419.8,342.8 L420.4,339.8 L420.8,336.7 L421.5,333.8 L422.2,330.8 L422.6,327.8 L423.1,324.8 L423.8,321.9 L424.4,318.9 L425.0,316.0 L425.7,313.1 L426.2,310.1 L426.7,307.1 L427.1,304.1 L427.7,301.2 L428.4,298.3 L429.0,295.4 L429.5,292.4 L430.0,289.5 L430.7,286.6 L431.4,283.7 L432.0,280.8 L432.5,277.8 L433.1,274.9 L433.7,272.0 L434.4,269.1 L434.9,266.2 L435.4,263.2 L435.9,260.3 L436.6,257.4 L437.3,254.5 L437.9,251.5 L438.4,248.6 L438.9,245.6 L439.4,242.7 L440.0,239.7 L440.8,236.8 L441.2,233.8 L441.8,230.9 L442.5,227.9 L443.0,224.9 L443.6,222.0 L444.2,219.0 L444.9,216.0 L445.5,213.0 L446.1,210.0 L446.8,207.0 L447.3,204.0 L447.9,201.0 L448.5,198.0 L449.1,194.9 L449.9,192.0 L450.7,189.0 L451.3,186.0 L451.8,182.9 L452.5,179.9 L453.3,176.9 L454.1,174.0 L455.0,171.0 L455.7,168.0 L456.5,165.1 L457.5,162.2 L458.4,159.3 L459.2,156.3 L460.2,153.4 L461.2,150.6 L462.2,147.7 L463.2,144.8 L464.4,142.1 L465.4,139.2 L466.5,136.4 L467.8,133.7 L468.9,131.0 L470.2,128.4 L471.5,125.7 L472.8,123.1 L474.1,120.6 L475.6,118.1 L477.0,115.7 L478.4,113.2 L479.9,110.8 L481.6,108.7 L483.3,106.5 L484.9,104.3 L486.4,102.0 L488.2,100.0 L490.1,98.2 L491.9,96.4 L493.7,94.5 L495.6,92.6 L497.5,90.9 L499.5,89.3 L501.5,87.6 L503.6,86.1 L505.7,84.7 L507.8,83.3 L510.1,82.1 L512.2,80.8 L514.4,79.4 L516.7,78.3 L519.0,77.2 L521.3,76.1 L523.6,75.1 L525.9,74.0 L528.3,72.9 L530.7,72.1 L533.1,71.2 L535.5,70.4 L538.0,69.6 L540.4,68.9 L542.9,68.2 L545.4,67.4 L547.9,66.8 L550.4,66.1 L552.9,65.5 L555.5,65.1 L558.0,64.5 L560.5,63.9 L563.1,63.6 L565.7,63.3 L568.2,62.8 L570.8,62.4 L573.3,62.2 L575.9,61.8 L578.4,61.2 L581.0,61.0 L583.5,60.8 L586.1,60.5 L588.6,60.3 L591.2,60.1 L593.7,60.0 L596.2,59.6 L598.7,59.5 L601.2,59.5 L603.7,59.2 L606.2,58.9 L608.7,58.8 L611.2,58.6 L613.7,58.3 L616.2,58.1 L618.6,58.2 L621.1,58.1 L623.6,57.9 L626.1,57.9 L628.6,57.9 L631.0,57.7 L633.5,57.5 L636.0,57.3 L638.5,57.4 L640.9,57.2 L643.4,56.8 L645.9,56.9 L648.4,57.0 L650.9,57.0 L653.3,56.9 L655.8,56.8 L658.3,56.7 L660.8,56.7 L663.3,56.9 L665.8,56.7 L668.3,56.4 L670.8,56.2 L673.3,56.1 L675.9,56.1 L678.4,55.8 L680.9,55.6 L683.5,55.4 L686.0,55.4" stroke="#000" stroke-width="2.55"/>
</g>
</g>
<path class="fr" d="M90,0.0V507.3H685.8V0.0"/>
<path class="fr2" d="M88.9,1.4H686.9"/>
<path class="tk" d="M91,46.0H102M91,139.0H102M91,231.0H102M91,324.0H102M91,416.0H102M239.3,507.0V496.0M388.6,507.0V496.0M538.3,507.0V496.0"/>
<text transform="translate(80.8,54.3) scale(0.905,1)" font-size="27.8" text-anchor="end">1.0</text>
<text transform="translate(80.8,147.1) scale(0.905,1)" font-size="27.8" text-anchor="end">0.8</text>
<text transform="translate(80.8,240.7) scale(0.905,1)" font-size="27.8" text-anchor="end">0.6</text>
<text transform="translate(80.8,333.6) scale(0.905,1)" font-size="27.8" text-anchor="end">0.4</text>
<text transform="translate(80.8,426.9) scale(0.905,1)" font-size="27.8" text-anchor="end">0.2</text>
<text transform="translate(80.8,520.0) scale(0.905,1)" font-size="27.8" text-anchor="end">0</text>
<text transform="translate(86.8,538.3) scale(0.905,1)" font-size="27.8" text-anchor="middle">−10</text>
<text transform="translate(236.8,538.3) scale(0.905,1)" font-size="27.8" text-anchor="middle">−5</text>
<text transform="translate(388.4,538.3) scale(0.905,1)" font-size="27.8" text-anchor="middle">0</text>
<text transform="translate(538.0,538.3) scale(0.905,1)" font-size="27.8" text-anchor="middle">5</text>
<text transform="translate(688.2,538.3) scale(0.905,1)" font-size="27.8" text-anchor="middle">10</text>
<text transform="translate(388.8,570.0) scale(1.000,1)" font-size="26.5" text-anchor="middle">Gate voltage (V)</text>
<text transform="translate(122.6,43.3) scale(0.990,1)" font-size="26.5" text-anchor="start">(a) #A dry</text>
<text transform="translate(304.0,254.0) scale(1.012,1)" font-size="26.0" text-anchor="start">300 kHz</text>
<text transform="translate(569.0,435.5) scale(1.000,1)" font-size="26.0" text-anchor="start">80 kHz</text>
<text transform="translate(18.7,287.5) rotate(-90) scale(0.95,1)" font-size="27.5"><tspan class="it">C</tspan>/<tspan class="it">C</tspan><tspan font-size="15.5" dy="9.3">ox</tspan></text>
<path d="M375.6,262.0L586.3,395.7" stroke="#000" stroke-width="2.2" fill="none"/>
<path d="M596.4,402.1 L578.5,381.8 L580.4,391.9 L570.4,394.5 Z" fill="#000"/>
<g class="cv">
<g transform="scale(1,0.820)">
<path d="M90.0,1335.6 L92.5,1335.0 L95.0,1335.2 L97.5,1335.3 L100.0,1334.9 L102.5,1334.7 L105.0,1334.1 L107.5,1333.8 L110.0,1333.7 L112.5,1333.3 L115.0,1333.2 L117.5,1333.1 L120.0,1333.0 L122.5,1332.7 L125.0,1332.5 L127.5,1332.2 L130.0,1332.3 L132.5,1332.4 L135.0,1332.1 L137.5,1331.6 L140.0,1331.2 L142.5,1331.2 L145.0,1331.1 L147.5,1330.9 L150.0,1330.7 L152.5,1330.4 L155.0,1329.9 L157.5,1329.4 L160.0,1329.4 L162.5,1329.5 L165.0,1329.0 L167.5,1328.7 L170.0,1328.6 L172.5,1328.3 L175.0,1328.4 L177.5,1328.2 L180.0,1328.0 L182.5,1327.9 L185.0,1327.1 L187.5,1326.9 L190.0,1327.2 L192.5,1326.9 L195.0,1326.4 L197.4,1325.8 L199.9,1325.6 L202.5,1325.5 L204.9,1325.1 L207.5,1325.3 L210.0,1325.0 L212.5,1324.7 L214.9,1324.4 L217.4,1324.0 L219.9,1323.8 L222.4,1323.7 L224.9,1323.4 L227.4,1323.0 L229.9,1322.5 L232.4,1322.0 L234.9,1321.9 L237.4,1321.8 L239.9,1321.5 L242.4,1321.4 L244.9,1321.2 L247.4,1320.6 L249.8,1320.2 L252.4,1320.0 L254.8,1319.6 L257.3,1318.9 L259.8,1318.5 L262.3,1318.5 L264.8,1318.4 L267.3,1318.0 L269.7,1317.3 L272.3,1317.2 L274.8,1317.1 L277.2,1316.4 L279.7,1316.1 L282.2,1315.9 L284.7,1315.4 L287.2,1314.8 L289.6,1314.3 L292.1,1314.1 L294.6,1313.8 L297.1,1313.3 L299.6,1312.6 L302.0,1312.0 L304.5,1311.8 L307.0,1311.4 L309.4,1310.7 L311.9,1310.2 L314.5,1310.3 L317.0,1309.9 L319.4,1309.1 L321.8,1308.4 L324.3,1307.8 L326.8,1307.4 L329.3,1307.0 L331.7,1306.3 L334.2,1306.0 L336.7,1305.7 L339.2,1305.0 L341.6,1304.1 L344.0,1303.3 L346.5,1303.1 L348.9,1302.4 L351.4,1301.8 L353.9,1301.3 L356.3,1300.6 L358.7,1299.8 L361.1,1298.8 L363.5,1298.0 L366.0,1297.7 L368.5,1297.1 L370.8,1295.9 L373.2,1295.3 L375.6,1294.5 L378.0,1293.5 L380.5,1293.0 L382.9,1292.2 L385.3,1291.4 L387.7,1290.5 L389.9,1289.1 L392.3,1288.3 L394.8,1287.7 L397.1,1286.7 L399.5,1285.8 L401.9,1285.0 L404.3,1283.9 L406.6,1283.0 L409.1,1282.2 L411.4,1281.0 L413.6,1279.5 L415.8,1278.2 L418.2,1277.1 L420.4,1275.9 L422.8,1274.9 L425.2,1274.0 L427.3,1272.4 L429.6,1271.1 L431.8,1269.7 L433.8,1268.0 L436.1,1266.8 L438.3,1265.3 L440.4,1263.7 L442.5,1262.3 L444.7,1260.8 L446.8,1259.1 L448.8,1257.4 L450.8,1255.6 L452.6,1253.5 L454.4,1251.3 L456.1,1249.1 L458.1,1247.2 L459.8,1245.0 L461.5,1242.7 L463.2,1240.5 L464.9,1238.2 L466.9,1236.2 L468.5,1233.7 L469.9,1231.1 L471.5,1228.6 L473.0,1226.2 L474.4,1223.5 L475.8,1220.8 L477.3,1218.3 L478.5,1215.5 L479.7,1212.7 L481.2,1210.1 L482.6,1207.4 L483.7,1204.5 L484.7,1201.6 L485.7,1198.7 L486.7,1195.8 L487.5,1192.9 L488.6,1190.1 L489.7,1187.2 L490.5,1184.3 L491.3,1181.4 L492.3,1178.5 L493.2,1175.7 L493.8,1172.6 L494.8,1169.8 L495.5,1166.9 L496.0,1163.8 L496.7,1160.9 L497.4,1158.0 L498.1,1155.0 L498.7,1152.1 L499.2,1149.1 L499.5,1146.0 L500.2,1143.1 L500.8,1140.1 L501.0,1137.0 L501.5,1134.0 L501.8,1131.0 L502.3,1128.0 L502.9,1125.0 L503.5,1122.0 L503.6,1118.9 L503.9,1115.9 L504.2,1112.9 L504.4,1109.8 L504.8,1106.8 L505.2,1103.8 L505.0,1100.7 L505.4,1097.6 L505.7,1094.6 L505.9,1091.6 L506.4,1088.6 L506.6,1085.5 L506.8,1082.5 L507.2,1079.4 L507.2,1076.4 L507.1,1073.3 L507.5,1070.3 L507.9,1067.3 L508.4,1064.3 L508.8,1061.3 L508.9,1058.2 L509.0,1055.2 L508.9,1052.1 L509.0,1049.1 L509.5,1046.1 L510.0,1043.1 L510.2,1040.1 L510.5,1037.1 L510.9,1034.1 L511.0,1031.1 L511.2,1028.0 L511.4,1025.0 L511.9,1022.0 L512.0,1019.0 L512.3,1016.0 L512.9,1013.0 L512.9,1009.9 L513.0,1006.9 L513.7,1003.9 L513.9,1000.9 L514.0,997.8 L514.4,994.8 L515.0,991.8 L515.4,988.8 L515.4,985.7 L515.5,982.7 L515.7,979.6 L516.3,976.6 L516.5,973.5 L516.7,970.5 L517.4,967.5 L517.7,964.4 L517.9,961.3 L518.4,958.3 L518.9,955.2 L519.1,952.1 L519.4,949.0 L519.9,945.9 L520.3,942.8 L520.5,939.7 L520.9,936.6 L521.4,933.5 L521.7,930.4 L522.1,927.2 L522.8,924.2 L523.3,921.1 L523.8,918.0 L524.2,915.0 L524.5,911.8 L525.3,908.9 L525.9,905.9 L526.4,902.9 L527.3,900.1 L527.9,897.2 L528.5,894.2 L529.4,891.5 L530.5,888.8 L531.5,886.2 L532.6,883.6 L533.6,881.1 L534.6,878.5 L535.8,876.0 L537.2,873.7 L538.7,871.5 L540.3,869.3 L541.9,867.2 L543.5,865.1 L545.3,863.3 L547.3,861.6 L549.1,859.8 L551.0,858.0 L553.1,856.5 L555.2,855.2 L557.3,853.6 L559.3,851.8 L561.4,850.1 L563.5,848.5 L565.9,847.7 L568.5,847.3 L571.0,846.7 L573.3,845.6 L575.5,844.0 L577.9,843.1 L580.3,842.0 L582.7,841.1 L585.2,840.5 L587.7,839.9 L590.3,840.0 L592.8,840.0 L595.3,839.2 L597.8,838.3 L600.2,837.5 L602.8,836.9 L605.4,837.4 L607.9,837.6 L610.5,837.2 L613.0,836.8 L615.6,836.9 L618.1,836.6 L620.7,836.0 L623.3,836.7 L625.9,836.5 L628.4,835.8 L631.0,835.9 L633.6,836.2 L636.1,836.2 L638.7,835.7 L641.3,835.7 L643.8,836.1 L646.4,835.9 L648.9,835.3 L651.5,835.6 L654.0,835.9 L656.5,836.1 L659.0,836.1 L661.5,835.7 L664.0,835.9 L666.5,836.1 L669.0,836.2 L671.4,836.0 L673.9,835.2 L676.3,835.0 L678.7,835.3 L681.1,835.1 L683.5,834.9 L685.9,834.6" stroke="#000" stroke-width="2.55"/>
<path d="M90.0,1329.9 L92.5,1329.8 L95.0,1329.6 L97.5,1329.2 L99.9,1328.4 L102.4,1328.2 L105.0,1328.8 L107.5,1328.7 L110.0,1328.0 L112.5,1327.9 L115.0,1327.6 L117.5,1327.4 L120.0,1327.3 L122.5,1327.4 L125.0,1327.4 L127.5,1326.9 L130.0,1326.6 L132.5,1326.5 L135.0,1326.1 L137.5,1326.0 L140.0,1325.9 L142.5,1325.6 L145.0,1325.6 L147.5,1325.4 L150.0,1325.5 L152.5,1325.2 L155.0,1324.8 L157.5,1324.5 L160.0,1324.5 L162.5,1324.3 L165.0,1324.0 L167.5,1323.8 L170.0,1323.7 L172.5,1323.6 L175.0,1323.4 L177.5,1323.2 L180.0,1323.0 L182.5,1322.5 L185.0,1322.6 L187.5,1322.8 L190.0,1322.4 L192.5,1322.2 L195.0,1322.2 L197.5,1321.7 L200.0,1321.6 L202.5,1321.3 L205.0,1320.9 L207.5,1321.1 L210.0,1320.8 L212.5,1320.7 L215.0,1320.6 L217.5,1320.3 L220.0,1320.1 L222.5,1319.8 L224.9,1319.6 L227.5,1319.6 L230.0,1319.4 L232.4,1319.0 L234.9,1318.8 L237.4,1318.4 L239.9,1318.0 L242.4,1317.7 L244.9,1317.7 L247.4,1317.5 L249.9,1317.1 L252.4,1316.6 L254.8,1316.3 L257.3,1315.9 L259.8,1315.5 L262.3,1315.0 L264.8,1314.5 L267.3,1314.5 L269.7,1314.0 L272.2,1313.5 L274.7,1313.5 L277.2,1313.3 L279.7,1313.0 L282.2,1312.7 L284.7,1312.2 L287.2,1311.7 L289.6,1311.2 L292.1,1310.9 L294.6,1310.1 L297.0,1309.4 L299.6,1309.4 L302.0,1309.0 L304.5,1308.4 L307.0,1307.7 L309.4,1307.3 L311.9,1306.8 L314.3,1305.9 L316.8,1305.6 L319.3,1305.1 L321.8,1304.4 L324.2,1303.6 L326.6,1302.6 L329.1,1302.2 L331.7,1302.2 L334.0,1301.2 L336.4,1300.2 L339.0,1299.9 L341.4,1299.3 L343.8,1298.5 L346.3,1297.8 L348.7,1296.9 L351.1,1296.3 L353.6,1295.8 L356.0,1294.9 L358.3,1293.6 L360.8,1293.0 L363.2,1292.4 L365.6,1291.4 L368.1,1290.8 L370.5,1290.0 L372.8,1288.8 L375.1,1287.9 L377.5,1287.0 L379.8,1285.8 L382.2,1284.7 L384.5,1283.6 L386.7,1282.3 L389.2,1281.5 L391.6,1280.9 L393.9,1279.6 L396.2,1278.5 L398.5,1277.5 L400.9,1276.5 L403.1,1275.2 L405.5,1274.2 L407.8,1273.1 L409.9,1271.4 L412.1,1270.1 L414.3,1268.6 L416.5,1267.3 L418.8,1266.2 L421.0,1264.8 L423.2,1263.4 L425.1,1261.5 L427.1,1259.7 L429.3,1258.4 L431.4,1257.0 L433.6,1255.6 L435.6,1253.9 L437.5,1252.1 L439.5,1250.4 L441.5,1248.7 L443.4,1246.8 L445.1,1244.6 L446.7,1242.5 L448.5,1240.4 L450.3,1238.3 L451.9,1236.0 L453.4,1233.7 L454.9,1231.2 L456.3,1228.7 L457.9,1226.3 L459.2,1223.7 L460.7,1221.1 L462.1,1218.5 L463.2,1215.7 L464.2,1212.8 L465.5,1210.1 L466.7,1207.2 L467.7,1204.3 L468.8,1201.4 L470.0,1198.6 L471.1,1195.7 L472.1,1192.7 L473.1,1189.8 L473.7,1186.7 L474.5,1183.7 L475.6,1180.8 L476.6,1177.8 L477.5,1174.9 L478.2,1171.9 L479.1,1168.9 L479.6,1165.8 L480.0,1162.7 L481.1,1159.8 L482.1,1156.9 L482.5,1153.9 L483.1,1150.8 L483.9,1147.9 L484.2,1144.8 L484.6,1141.8 L485.3,1138.8 L486.0,1135.8 L486.7,1132.9 L487.2,1129.9 L487.6,1126.8 L487.9,1123.8 L488.1,1120.7 L488.6,1117.7 L489.3,1114.8 L490.1,1111.8 L490.2,1108.7 L490.3,1105.7 L490.5,1102.6 L491.0,1099.6 L491.5,1096.6 L491.8,1093.6 L492.5,1090.6 L492.5,1087.6 L492.6,1084.5 L493.1,1081.5 L493.7,1078.6 L493.8,1075.5 L493.8,1072.4 L494.2,1069.4 L494.8,1066.4 L494.8,1063.4 L494.8,1060.3 L495.4,1057.3 L495.8,1054.3 L495.8,1051.3 L496.0,1048.2 L496.4,1045.2 L496.8,1042.2 L497.0,1039.2 L497.1,1036.1 L497.1,1033.1 L497.4,1030.1 L497.9,1027.1 L498.2,1024.0 L498.3,1021.0 L498.6,1018.0 L499.0,1015.0 L499.2,1011.9 L499.2,1008.8 L499.6,1005.8 L500.0,1002.8 L500.1,999.8 L500.5,996.8 L500.8,993.7 L501.1,990.7 L501.3,987.6 L501.8,984.6 L502.1,981.6 L502.4,978.6 L502.8,975.5 L502.9,972.5 L503.4,969.5 L504.0,966.5 L504.5,963.5 L504.8,960.4 L505.0,957.3 L505.6,954.3 L506.3,951.3 L506.7,948.3 L507.2,945.3 L507.6,942.2 L508.2,939.2 L508.8,936.2 L509.5,933.2 L510.0,930.2 L510.3,927.1 L511.0,924.1 L511.9,921.1 L512.4,918.0 L512.7,914.9 L513.4,911.9 L514.6,909.0 L515.4,906.1 L516.2,903.2 L517.2,900.3 L518.1,897.5 L518.9,894.5 L519.9,891.8 L521.1,889.1 L522.1,886.4 L523.0,883.6 L524.1,880.9 L525.6,878.6 L527.1,876.2 L528.2,873.5 L529.6,871.2 L531.3,869.1 L533.0,867.1 L534.6,865.0 L536.3,863.0 L538.0,860.9 L539.7,858.9 L541.6,857.1 L543.8,855.8 L545.7,854.1 L547.8,852.4 L549.9,851.0 L551.8,849.1 L554.2,848.1 L556.5,847.0 L558.8,845.7 L561.0,844.5 L563.4,843.5 L565.9,843.0 L568.2,841.7 L570.6,840.7 L573.2,840.3 L575.7,839.6 L578.0,838.2 L580.5,837.6 L583.0,837.2 L585.5,836.4 L588.0,836.0 L590.5,835.3 L593.0,834.8 L595.5,834.4 L598.1,834.3 L600.6,834.4 L603.2,834.0 L605.7,833.7 L608.2,833.6 L610.8,833.4 L613.3,832.9 L615.8,832.5 L618.4,832.6 L620.9,832.5 L623.5,832.5 L626.0,832.6 L628.5,832.5 L631.1,832.4 L633.6,832.2 L636.2,832.0 L638.7,831.9 L641.2,832.2 L643.8,832.5 L646.3,832.5 L648.8,832.2 L651.3,831.8 L653.9,832.5 L656.4,832.8 L658.9,831.8 L661.4,831.6 L663.9,832.0 L666.3,831.7 L668.8,831.4 L671.3,831.2 L673.7,831.0 L676.2,830.8 L678.6,830.5 L681.0,830.4 L683.5,830.3 L685.9,830.4" stroke="#aaaaaa" stroke-width="2.40"/>
<path d="M90.0,1328.9 L92.5,1328.7 L95.0,1328.3 L97.5,1328.1 L100.0,1327.9 L102.5,1327.9 L105.0,1327.3 L107.4,1326.4 L109.9,1326.4 L112.4,1326.6 L115.0,1326.6 L117.5,1326.3 L119.9,1325.9 L122.4,1325.7 L124.9,1325.6 L127.5,1325.7 L129.9,1325.1 L132.4,1324.9 L135.0,1325.2 L137.4,1324.6 L139.9,1324.3 L142.4,1324.2 L144.9,1324.0 L147.4,1323.8 L149.9,1323.7 L152.4,1323.3 L154.9,1323.0 L157.4,1322.9 L159.9,1322.5 L162.4,1322.6 L164.9,1322.3 L167.4,1322.1 L169.9,1322.0 L172.4,1321.7 L174.9,1321.3 L177.4,1321.1 L179.9,1321.1 L182.4,1321.2 L184.9,1320.8 L187.4,1320.4 L189.9,1320.2 L192.4,1319.8 L194.9,1319.9 L197.4,1319.7 L199.9,1319.3 L202.4,1319.1 L204.8,1318.6 L207.3,1318.3 L209.8,1318.1 L212.3,1317.9 L214.8,1318.0 L217.3,1317.8 L219.8,1317.0 L222.3,1316.9 L224.8,1316.9 L227.3,1316.5 L229.8,1316.4 L232.2,1315.8 L234.7,1315.3 L237.2,1315.1 L239.7,1314.7 L242.2,1314.3 L244.7,1314.1 L247.2,1313.9 L249.7,1313.7 L252.1,1313.2 L254.6,1312.9 L257.1,1312.1 L259.5,1311.6 L262.0,1311.6 L264.5,1311.2 L267.0,1311.0 L269.5,1310.5 L272.0,1310.1 L274.5,1309.6 L276.9,1309.0 L279.4,1308.6 L281.9,1308.0 L284.3,1307.6 L286.8,1307.2 L289.3,1306.5 L291.7,1306.0 L294.2,1305.6 L296.7,1305.0 L299.1,1304.0 L301.6,1303.5 L304.0,1303.0 L306.5,1302.6 L309.0,1302.1 L311.4,1301.3 L313.9,1300.8 L316.4,1300.0 L318.8,1299.4 L321.3,1298.8 L323.7,1298.0 L326.2,1297.7 L328.7,1297.2 L331.2,1296.5 L333.6,1295.5 L335.9,1294.4 L338.4,1293.7 L340.9,1293.3 L343.2,1292.3 L345.6,1291.4 L348.1,1290.7 L350.3,1289.2 L352.7,1288.3 L355.3,1288.1 L357.7,1287.3 L360.0,1286.2 L362.4,1285.1 L364.6,1283.7 L366.9,1282.3 L369.2,1281.3 L371.7,1280.6 L374.0,1279.5 L376.3,1278.3 L378.7,1277.4 L381.1,1276.5 L383.3,1275.0 L385.4,1273.4 L387.8,1272.4 L390.1,1271.2 L392.2,1269.6 L394.6,1268.7 L397.0,1267.8 L399.1,1266.0 L401.1,1264.3 L403.3,1262.8 L405.6,1261.4 L407.7,1259.9 L410.0,1258.6 L412.1,1257.0 L414.2,1255.4 L416.3,1253.6 L418.3,1251.9 L420.2,1250.0 L422.3,1248.3 L424.4,1246.8 L426.5,1245.2 L428.5,1243.3 L430.0,1240.8 L431.9,1239.0 L433.9,1237.2 L435.4,1234.8 L437.2,1232.8 L439.1,1230.9 L440.9,1228.8 L442.3,1226.4 L443.7,1223.9 L445.2,1221.6 L446.5,1219.0 L447.8,1216.5 L449.2,1214.0 L450.5,1211.4 L451.8,1208.9 L452.7,1206.1 L453.8,1203.3 L455.1,1200.7 L456.2,1197.9 L457.1,1195.1 L457.9,1192.1 L458.9,1189.3 L459.7,1186.3 L460.5,1183.4 L461.3,1180.4 L462.1,1177.5 L462.8,1174.5 L463.6,1171.5 L464.4,1168.5 L465.1,1165.5 L465.7,1162.5 L466.6,1159.6 L467.5,1156.7 L468.1,1153.6 L468.6,1150.6 L469.3,1147.6 L470.0,1144.7 L470.6,1141.7 L471.2,1138.7 L471.8,1135.7 L472.5,1132.8 L473.0,1129.7 L473.4,1126.7 L474.0,1123.8 L474.6,1120.8 L475.2,1117.8 L475.9,1114.9 L476.5,1111.9 L477.0,1108.9 L477.3,1105.9 L477.6,1102.9 L478.1,1099.9 L478.7,1096.9 L479.2,1093.9 L479.4,1090.9 L479.7,1087.9 L480.4,1084.9 L480.8,1081.9 L480.8,1078.8 L481.4,1075.9 L482.2,1072.9 L482.6,1069.9 L483.1,1066.9 L483.4,1063.9 L483.7,1060.9 L484.0,1057.9 L484.2,1054.8 L484.3,1051.8 L484.5,1048.7 L485.1,1045.8 L485.8,1042.8 L486.1,1039.7 L486.2,1036.7 L486.6,1033.7 L487.0,1030.6 L487.3,1027.6 L487.5,1024.5 L487.7,1021.5 L487.9,1018.4 L488.4,1015.4 L489.0,1012.4 L489.5,1009.3 L489.5,1006.2 L489.7,1003.2 L490.0,1000.1 L490.3,997.0 L490.7,994.0 L491.1,991.0 L491.2,987.9 L491.6,984.8 L492.1,981.8 L492.1,978.7 L492.8,975.7 L493.2,972.7 L493.3,969.6 L493.7,966.5 L494.2,963.5 L494.4,960.4 L494.8,957.4 L495.4,954.4 L496.0,951.4 L496.9,948.5 L497.4,945.5 L497.5,942.4 L498.1,939.4 L499.0,936.5 L499.5,933.5 L499.8,930.4 L500.6,927.5 L501.2,924.5 L501.6,921.5 L502.5,918.6 L503.3,915.6 L504.2,912.8 L505.0,909.8 L505.5,906.8 L506.2,903.8 L507.2,901.0 L508.4,898.2 L509.5,895.4 L510.5,892.6 L511.2,889.7 L512.3,886.9 L513.5,884.2 L514.7,881.6 L516.0,879.0 L517.1,876.3 L518.3,873.7 L519.8,871.4 L521.2,869.0 L522.9,866.9 L524.5,864.7 L525.7,862.2 L527.2,859.9 L529.0,858.1 L530.8,856.3 L532.6,854.4 L534.4,852.6 L536.2,850.7 L538.1,848.9 L540.2,847.6 L542.4,846.5 L544.5,845.0 L546.8,844.1 L548.9,842.5 L551.0,840.8 L553.5,840.3 L555.9,839.7 L558.3,838.6 L560.8,838.2 L563.2,837.5 L565.6,836.5 L568.1,836.0 L570.5,834.9 L573.1,834.7 L575.7,834.8 L578.1,833.7 L580.7,833.4 L583.2,832.9 L585.7,832.0 L588.2,831.5 L590.7,831.3 L593.3,831.1 L595.8,830.9 L598.4,830.6 L600.9,830.4 L603.4,830.4 L606.0,830.2 L608.5,830.0 L611.0,829.7 L613.5,829.2 L616.0,828.5 L618.5,828.7 L621.1,828.7 L623.6,828.5 L626.1,828.8 L628.6,828.6 L631.2,828.5 L633.7,828.5 L636.2,828.2 L638.7,828.0 L641.2,828.5 L643.7,828.5 L646.2,828.5 L648.7,828.1 L651.2,827.7 L653.7,828.2 L656.2,828.2 L658.7,827.7 L661.2,827.8 L663.7,827.4 L666.2,826.9 L668.7,827.2 L671.1,827.0 L673.6,827.2 L676.1,827.1 L678.6,826.8 L681.0,826.3 L683.5,825.9 L685.9,825.9" stroke="#000" stroke-width="2.55"/>
<path d="M575.7,834.8 L578.1,833.7 L580.7,833.4 L583.2,832.9 L585.7,832.0 L588.2,831.5 L590.7,831.3 L593.3,831.1 L595.8,830.9 L598.4,830.6 L600.9,830.4 L603.4,830.4 L606.0,830.2 L608.5,830.0 L611.0,829.7 L613.5,829.2 L616.0,828.5 L618.5,828.7 L621.1,828.7 L623.6,828.5 L626.1,828.8 L628.6,828.6 L631.2,828.5 L633.7,828.5 L636.2,828.2 L638.7,828.0 L641.2,828.5 L643.7,828.5 L646.2,828.5 L648.7,828.1 L651.2,827.7 L653.7,828.2 L656.2,828.2 L658.7,827.7 L661.2,827.8 L663.7,827.4 L666.2,826.9 L668.7,827.2 L671.1,827.0 L673.6,827.2 L676.1,827.1 L678.6,826.8 L681.0,826.3 L683.5,825.9 L685.9,825.9" stroke="#000" stroke-width="3.40"/>
<path d="M89.9,1327.8 L92.4,1327.7 L95.0,1327.3 L97.5,1327.1 L100.0,1327.2 L102.6,1326.8 L105.1,1326.2 L107.6,1326.1 L110.1,1326.2 L112.6,1325.8 L115.2,1325.5 L117.6,1324.9 L120.2,1324.6 L122.7,1324.7 L125.2,1324.7 L127.7,1324.6 L130.2,1324.3 L132.7,1324.0 L135.2,1323.5 L137.7,1323.2 L140.2,1322.9 L142.7,1322.6 L145.2,1322.8 L147.7,1322.4 L150.1,1322.0 L152.7,1322.2 L155.2,1322.0 L157.6,1321.7 L160.1,1321.5 L162.6,1321.3 L165.1,1320.7 L167.6,1320.6 L170.1,1320.8 L172.5,1320.2 L175.0,1319.9 L177.5,1319.7 L180.0,1319.6 L182.4,1319.3 L184.9,1318.7 L187.4,1318.5 L189.9,1318.5 L192.3,1318.4 L194.8,1318.0 L197.3,1317.7 L199.8,1317.4 L202.2,1317.2 L204.7,1316.9 L207.2,1316.9 L209.7,1316.7 L212.1,1316.1 L214.6,1316.2 L217.1,1315.9 L219.5,1315.1 L222.0,1314.6 L224.5,1314.8 L227.0,1314.7 L229.4,1314.2 L231.9,1314.0 L234.4,1313.7 L236.9,1313.3 L239.4,1313.2 L241.8,1312.8 L244.3,1312.3 L246.8,1311.9 L249.2,1311.4 L251.7,1311.3 L254.2,1310.9 L256.7,1310.4 L259.1,1309.6 L261.6,1309.0 L264.1,1308.8 L266.6,1308.5 L269.1,1308.2 L271.5,1307.8 L274.0,1307.3 L276.5,1306.8 L279.0,1306.4 L281.5,1306.0 L283.9,1305.2 L286.4,1304.7 L289.0,1304.8 L291.5,1304.3 L293.9,1303.4 L296.4,1302.5 L298.9,1302.0 L301.4,1301.8 L303.9,1301.3 L306.4,1300.2 L308.8,1299.1 L311.3,1298.8 L314.0,1299.0 L316.4,1298.1 L318.8,1297.0 L321.4,1296.6 L323.9,1296.0 L326.4,1295.4 L328.8,1294.4 L331.3,1293.5 L333.8,1292.9 L336.3,1292.2 L338.7,1291.6 L341.2,1290.8 L343.6,1289.7 L345.9,1288.5 L348.4,1287.6 L350.8,1286.8 L353.2,1285.8 L355.5,1284.7 L357.9,1283.7 L360.2,1282.6 L362.6,1281.7 L365.0,1280.8 L367.2,1279.3 L369.5,1278.2 L371.8,1276.9 L374.1,1275.7 L376.4,1274.6 L378.7,1273.4 L380.9,1272.2 L383.0,1270.5 L385.1,1269.1 L387.3,1267.7 L389.4,1266.1 L391.3,1264.2 L393.3,1262.4 L395.5,1261.1 L397.6,1259.6 L399.6,1257.8 L401.5,1255.9 L403.5,1254.2 L405.3,1252.1 L407.1,1250.1 L409.1,1248.4 L411.0,1246.4 L412.7,1244.3 L414.5,1242.2 L416.3,1240.1 L418.0,1238.0 L419.7,1235.8 L421.2,1233.3 L422.8,1231.0 L424.5,1228.9 L426.3,1226.7 L427.7,1224.2 L429.2,1221.8 L430.7,1219.4 L432.2,1216.9 L433.5,1214.3 L434.6,1211.6 L436.0,1209.0 L437.2,1206.3 L438.7,1203.8 L440.2,1201.3 L441.4,1198.6 L442.5,1195.9 L443.7,1193.2 L445.0,1190.6 L446.1,1187.8 L447.3,1185.1 L448.6,1182.4 L449.3,1179.4 L450.1,1176.5 L451.1,1173.7 L452.1,1170.9 L453.1,1168.0 L454.0,1165.1 L454.7,1162.2 L455.3,1159.2 L456.0,1156.2 L456.7,1153.3 L457.6,1150.4 L458.2,1147.4 L458.8,1144.4 L459.5,1141.5 L460.0,1138.5 L460.4,1135.4 L460.7,1132.4 L461.2,1129.4 L461.8,1126.4 L462.4,1123.4 L463.0,1120.5 L463.2,1117.4 L463.6,1114.4 L464.0,1111.3 L464.4,1108.3 L464.7,1105.3 L465.1,1102.2 L465.7,1099.2 L465.9,1096.2 L466.3,1093.2 L466.5,1090.1 L466.9,1087.1 L467.5,1084.1 L467.9,1081.1 L468.4,1078.1 L468.9,1075.1 L469.3,1072.1 L469.4,1069.0 L469.8,1066.1 L470.2,1063.0 L470.5,1060.0 L471.1,1057.0 L471.5,1054.0 L471.9,1051.0 L472.5,1048.1 L472.9,1045.1 L473.1,1042.0 L473.5,1039.0 L474.4,1036.1 L474.9,1033.1 L475.0,1030.1 L475.4,1027.1 L476.0,1024.1 L476.3,1021.1 L476.5,1018.0 L476.9,1015.0 L477.4,1012.0 L477.6,1009.0 L477.9,1005.9 L478.5,1003.0 L479.1,1000.0 L479.7,997.0 L480.1,994.0 L480.3,990.9 L481.0,988.0 L481.2,984.9 L481.6,981.9 L482.2,978.9 L482.4,975.9 L483.1,972.9 L483.7,970.0 L484.0,966.9 L484.5,963.9 L485.4,961.0 L486.0,958.1 L486.4,955.0 L486.8,952.0 L487.3,949.1 L488.1,946.1 L488.7,943.2 L489.3,940.2 L490.1,937.3 L490.6,934.3 L491.2,931.3 L492.2,928.5 L492.9,925.6 L493.5,922.6 L494.5,919.8 L495.4,916.9 L496.1,913.9 L496.9,911.0 L497.8,908.2 L498.7,905.3 L499.7,902.5 L500.6,899.5 L501.5,896.6 L502.6,893.9 L503.9,891.1 L505.0,888.4 L506.3,885.7 L507.6,883.0 L508.8,880.4 L510.2,877.7 L511.2,874.9 L512.6,872.4 L514.4,870.2 L515.8,867.8 L517.2,865.3 L518.6,862.9 L520.3,860.7 L522.0,858.5 L523.5,856.3 L525.4,854.4 L527.4,852.8 L529.3,851.0 L531.2,849.2 L533.1,847.5 L535.3,846.3 L537.5,845.0 L539.5,843.5 L541.7,842.1 L544.0,841.1 L546.4,840.4 L548.7,839.3 L550.9,837.9 L553.4,837.3 L555.9,836.7 L558.3,835.5 L560.8,834.9 L563.3,834.5 L565.8,833.9 L568.4,833.5 L570.9,833.2 L573.5,833.1 L576.1,832.8 L578.6,832.1 L581.1,831.5 L583.6,830.8 L586.2,830.4 L588.7,829.9 L591.2,829.9 L593.8,830.3 L596.3,829.9 L598.8,829.2 L601.3,828.8 L603.8,828.6 L606.3,828.2 L608.8,827.7 L611.3,827.6 L613.8,827.7 L616.3,827.3 L618.7,826.3 L621.2,826.2 L623.7,826.5 L626.1,825.8 L628.6,825.4 L631.0,824.5 L633.5,824.4 L636.0,824.9 L638.5,825.1 L641.0,824.9 L643.5,824.4 L645.9,824.1 L648.4,824.2 L650.9,824.3 L653.4,824.3 L655.9,824.2 L658.4,823.5 L660.9,823.2 L663.4,823.6 L665.9,823.2 L668.4,823.1 L670.9,823.1 L673.4,822.6 L675.9,822.3 L678.4,822.6 L681.0,823.0 L683.5,823.1 L686.0,822.6" stroke="#707070" stroke-width="2.30"/>
<path d="M90.0,1326.7 L92.5,1326.3 L95.0,1325.9 L97.5,1325.8 L100.0,1325.9 L102.4,1325.5 L104.9,1324.7 L107.4,1324.5 L109.9,1324.6 L112.4,1324.4 L114.9,1324.1 L117.3,1323.8 L119.8,1323.6 L122.3,1323.2 L124.8,1322.8 L127.3,1322.9 L129.8,1322.7 L132.3,1322.2 L134.8,1322.2 L137.3,1321.9 L139.8,1321.3 L142.3,1321.5 L144.9,1321.7 L147.3,1321.3 L149.8,1320.6 L152.3,1320.2 L154.8,1320.0 L157.4,1319.9 L159.9,1320.0 L162.4,1320.0 L164.9,1319.7 L167.4,1319.2 L169.9,1319.0 L172.4,1318.9 L174.9,1318.7 L177.4,1318.4 L179.9,1317.9 L182.5,1317.8 L185.0,1317.9 L187.5,1317.5 L190.0,1317.0 L192.5,1317.0 L195.0,1316.9 L197.5,1316.7 L200.0,1316.2 L202.5,1315.9 L205.0,1315.4 L207.5,1314.6 L210.0,1314.5 L212.5,1314.6 L215.0,1314.1 L217.5,1313.7 L220.1,1313.7 L222.6,1313.4 L225.1,1313.1 L227.6,1313.0 L230.1,1312.6 L232.5,1312.0 L235.1,1311.8 L237.6,1311.7 L240.0,1311.2 L242.5,1310.8 L245.1,1310.7 L247.5,1310.0 L250.0,1309.5 L252.5,1309.1 L255.0,1308.8 L257.5,1308.5 L260.0,1308.3 L262.4,1307.5 L264.8,1306.6 L267.3,1306.4 L269.8,1306.2 L272.3,1305.8 L274.7,1305.2 L277.2,1304.8 L279.7,1304.4 L282.1,1303.8 L284.6,1303.5 L287.1,1303.1 L289.5,1302.2 L291.9,1301.4 L294.4,1301.2 L296.8,1300.7 L299.3,1299.9 L301.7,1299.5 L304.2,1299.0 L306.6,1298.3 L309.0,1297.8 L311.4,1297.1 L313.9,1296.4 L316.3,1295.8 L318.7,1295.0 L321.1,1294.4 L323.5,1293.3 L325.8,1292.2 L328.2,1291.4 L330.7,1291.0 L333.1,1290.3 L335.5,1289.2 L337.8,1288.1 L340.1,1286.9 L342.6,1286.1 L345.0,1285.3 L347.4,1284.3 L349.8,1283.3 L352.1,1282.1 L354.5,1281.0 L356.8,1279.6 L359.2,1278.3 L361.6,1277.1 L363.8,1275.5 L366.0,1274.0 L368.5,1272.9 L370.7,1271.2 L372.7,1269.3 L375.0,1267.9 L377.3,1266.3 L379.5,1264.7 L381.7,1263.2 L383.9,1261.5 L385.9,1259.5 L387.9,1257.7 L389.8,1255.6 L391.8,1253.7 L393.8,1251.9 L395.8,1250.0 L397.8,1248.1 L399.6,1245.9 L401.3,1243.8 L403.0,1241.5 L404.8,1239.4 L406.5,1237.2 L407.9,1234.7 L409.6,1232.5 L411.2,1230.2 L412.6,1227.7 L414.2,1225.4 L415.7,1223.0 L417.2,1220.6 L418.5,1218.1 L419.9,1215.6 L421.5,1213.2 L422.7,1210.6 L424.0,1208.0 L425.2,1205.4 L426.3,1202.6 L427.6,1200.1 L428.6,1197.3 L429.6,1194.5 L430.8,1191.9 L431.9,1189.1 L432.9,1186.4 L433.7,1183.4 L434.7,1180.7 L436.0,1178.0 L437.1,1175.3 L438.1,1172.4 L438.8,1169.5 L439.5,1166.6 L440.4,1163.7 L441.2,1160.8 L442.1,1157.9 L443.0,1155.1 L443.9,1152.2 L444.7,1149.3 L445.3,1146.3 L446.0,1143.3 L446.8,1140.4 L447.4,1137.5 L448.1,1134.5 L449.0,1131.7 L449.5,1128.7 L450.0,1125.7 L450.6,1122.7 L451.5,1119.8 L452.2,1116.9 L452.8,1113.9 L453.3,1111.0 L453.6,1107.9 L454.2,1105.0 L455.0,1102.1 L455.7,1099.1 L456.2,1096.1 L456.5,1093.1 L457.0,1090.1 L457.6,1087.2 L457.9,1084.1 L458.4,1081.1 L458.9,1078.2 L459.3,1075.1 L460.0,1072.2 L460.4,1069.2 L460.8,1066.2 L461.4,1063.2 L461.8,1060.2 L462.0,1057.1 L462.4,1054.1 L462.9,1051.1 L463.5,1048.1 L463.9,1045.1 L464.0,1042.0 L464.5,1039.0 L465.2,1036.1 L465.5,1033.0 L465.8,1029.9 L466.3,1026.9 L466.7,1023.9 L467.1,1020.9 L467.6,1017.9 L467.9,1014.8 L468.0,1011.7 L468.4,1008.6 L469.4,1005.7 L470.1,1002.7 L470.3,999.6 L470.5,996.5 L471.1,993.5 L471.8,990.5 L472.2,987.5 L472.8,984.5 L473.2,981.4 L473.5,978.4 L473.9,975.3 L474.4,972.3 L474.9,969.3 L475.6,966.3 L476.2,963.3 L476.8,960.3 L477.4,957.3 L477.9,954.3 L478.4,951.3 L479.1,948.4 L479.8,945.4 L480.5,942.5 L481.4,939.6 L481.7,936.5 L482.2,933.5 L483.2,930.7 L484.2,927.8 L485.2,925.0 L485.9,922.1 L486.5,919.1 L487.5,916.3 L488.5,913.5 L489.6,910.8 L490.5,908.0 L491.2,905.0 L492.4,902.3 L493.7,899.6 L494.4,896.7 L495.4,893.9 L496.7,891.3 L498.0,888.6 L499.3,886.0 L500.5,883.3 L501.7,880.6 L502.9,878.0 L504.3,875.4 L505.8,873.0 L507.4,870.6 L508.6,868.0 L510.0,865.5 L511.9,863.4 L513.7,861.4 L515.4,859.2 L516.7,856.7 L518.3,854.3 L520.3,852.6 L522.3,850.9 L524.1,849.1 L526.2,847.5 L528.1,845.7 L530.1,844.1 L532.3,842.7 L534.3,841.1 L536.4,839.5 L538.6,838.2 L541.1,837.7 L543.5,836.9 L545.8,835.8 L548.2,835.0 L550.5,833.9 L553.0,833.2 L555.5,832.6 L557.9,831.7 L560.4,831.0 L562.9,830.3 L565.5,829.9 L568.0,829.5 L570.6,829.3 L573.2,828.9 L575.7,828.0 L578.2,827.2 L580.8,827.3 L583.5,828.0 L586.0,827.5 L588.4,826.0 L591.0,825.9 L593.5,826.0 L596.1,825.7 L598.6,825.7 L601.1,825.4 L603.6,825.1 L606.1,824.6 L608.7,824.6 L611.2,824.4 L613.7,824.2 L616.1,823.9 L618.6,823.5 L621.1,823.2 L623.6,823.2 L626.1,823.1 L628.6,822.5 L631.1,822.7 L633.6,822.8 L636.0,822.4 L638.5,821.9 L641.0,821.8 L643.5,822.0 L646.0,822.0 L648.5,821.6 L650.9,821.4 L653.4,821.0 L655.9,820.7 L658.4,820.8 L660.9,820.8 L663.4,820.8 L665.9,821.1 L668.4,821.1 L670.9,820.5 L673.4,819.7 L675.9,819.1 L678.4,819.8 L680.9,819.8 L683.5,819.7 L686.0,819.4" stroke="#000" stroke-width="2.55"/>
<path d="M575.7,828.0 L578.2,827.2 L580.8,827.3 L583.5,828.0 L586.0,827.5 L588.4,826.0 L591.0,825.9 L593.5,826.0 L596.1,825.7 L598.6,825.7 L601.1,825.4 L603.6,825.1 L606.1,824.6 L608.7,824.6 L611.2,824.4 L613.7,824.2 L616.1,823.9 L618.6,823.5 L621.1,823.2 L623.6,823.2 L626.1,823.1 L628.6,822.5 L631.1,822.7 L633.6,822.8 L636.0,822.4 L638.5,821.9 L641.0,821.8 L643.5,822.0 L646.0,822.0 L648.5,821.6 L650.9,821.4 L653.4,821.0 L655.9,820.7 L658.4,820.8 L660.9,820.8 L663.4,820.8 L665.9,821.1 L668.4,821.1 L670.9,820.5 L673.4,819.7 L675.9,819.1 L678.4,819.8 L680.9,819.8 L683.5,819.7 L686.0,819.4" stroke="#000" stroke-width="3.60"/>
<path d="M90.0,1325.5 L92.5,1325.3 L95.0,1325.1 L97.5,1325.1 L100.0,1325.0 L102.5,1324.6 L105.0,1324.1 L107.5,1324.1 L110.0,1324.1 L112.5,1323.9 L115.0,1323.4 L117.5,1323.2 L120.0,1323.1 L122.5,1322.6 L125.0,1322.2 L127.5,1322.3 L130.0,1322.1 L132.5,1321.7 L135.0,1321.4 L137.5,1321.0 L140.0,1320.9 L142.5,1320.7 L145.0,1320.0 L147.4,1319.4 L149.9,1319.2 L152.4,1319.1 L155.0,1319.0 L157.4,1318.3 L159.9,1318.0 L162.5,1318.3 L164.9,1317.7 L167.4,1317.4 L169.9,1317.1 L172.4,1316.5 L174.9,1316.2 L177.4,1316.2 L179.9,1316.1 L182.4,1315.7 L184.9,1315.1 L187.3,1314.6 L189.8,1314.3 L192.3,1314.0 L194.8,1313.9 L197.4,1313.8 L199.8,1313.4 L202.3,1312.9 L204.8,1312.6 L207.3,1312.1 L209.8,1312.1 L212.3,1312.0 L214.8,1311.7 L217.3,1311.5 L219.8,1310.8 L222.3,1310.3 L224.8,1310.3 L227.3,1310.2 L229.8,1309.9 L232.3,1309.4 L234.8,1309.1 L237.3,1308.7 L239.7,1308.2 L242.2,1307.8 L244.7,1307.6 L247.3,1307.5 L249.7,1307.1 L252.2,1306.7 L254.7,1305.8 L257.2,1305.3 L259.7,1305.3 L262.2,1305.1 L264.7,1304.8 L267.2,1304.5 L269.6,1303.8 L272.1,1303.3 L274.6,1302.7 L277.1,1302.2 L279.5,1301.6 L282.0,1301.1 L284.5,1300.5 L287.0,1300.0 L289.5,1300.0 L292.0,1299.3 L294.4,1298.6 L296.9,1298.2 L299.3,1297.0 L301.7,1295.9 L304.2,1295.6 L306.7,1295.0 L309.2,1294.3 L311.7,1294.1 L314.3,1293.7 L316.6,1292.6 L319.0,1291.4 L321.4,1290.5 L323.9,1289.8 L326.2,1288.8 L328.7,1288.1 L331.0,1286.9 L333.4,1285.9 L335.8,1285.1 L338.2,1284.0 L340.6,1283.0 L342.8,1281.6 L345.1,1280.4 L347.4,1279.4 L349.8,1278.3 L352.2,1277.5 L354.5,1276.4 L356.6,1274.6 L358.7,1272.9 L360.9,1271.5 L363.2,1270.3 L365.2,1268.6 L367.3,1267.0 L369.6,1265.9 L371.7,1264.3 L373.6,1262.3 L375.7,1260.7 L378.0,1259.5 L379.9,1257.6 L381.8,1255.6 L383.9,1253.9 L385.8,1252.1 L387.6,1249.9 L389.4,1247.8 L391.3,1245.8 L393.1,1243.8 L395.0,1241.8 L396.7,1239.5 L398.3,1237.2 L400.1,1235.0 L401.5,1232.4 L403.2,1230.2 L405.1,1228.0 L406.4,1225.4 L407.7,1222.7 L409.5,1220.4 L411.3,1218.2 L412.7,1215.5 L413.9,1212.8 L415.3,1210.2 L416.6,1207.5 L417.8,1204.7 L419.2,1202.1 L420.4,1199.4 L421.6,1196.6 L422.9,1194.0 L424.1,1191.2 L424.9,1188.3 L426.0,1185.5 L427.2,1182.8 L428.2,1179.9 L429.0,1177.0 L429.8,1174.0 L430.9,1171.3 L432.0,1168.5 L432.8,1165.6 L433.6,1162.7 L434.4,1159.8 L434.9,1156.8 L435.6,1153.9 L436.5,1151.0 L437.5,1148.2 L438.4,1145.3 L438.8,1142.3 L439.1,1139.2 L440.0,1136.4 L440.9,1133.5 L441.6,1130.6 L442.0,1127.6 L442.7,1124.7 L443.5,1121.8 L444.1,1118.8 L444.7,1115.9 L445.1,1112.9 L445.5,1109.9 L446.3,1107.0 L446.6,1104.0 L447.1,1101.0 L448.2,1098.2 L448.5,1095.2 L449.1,1092.3 L449.7,1089.3 L450.0,1086.3 L450.5,1083.4 L451.2,1080.5 L451.8,1077.5 L452.1,1074.5 L452.7,1071.6 L453.4,1068.6 L454.0,1065.7 L454.4,1062.7 L454.9,1059.7 L455.3,1056.7 L455.5,1053.6 L455.9,1050.6 L456.4,1047.7 L457.0,1044.7 L457.5,1041.7 L457.8,1038.7 L458.4,1035.7 L458.8,1032.7 L459.0,1029.6 L459.2,1026.5 L459.9,1023.6 L460.9,1020.6 L461.1,1017.6 L461.5,1014.5 L461.8,1011.5 L462.1,1008.4 L462.5,1005.3 L463.1,1002.3 L463.6,999.3 L464.0,996.2 L464.4,993.1 L464.6,990.0 L465.2,987.0 L465.9,983.9 L466.4,980.9 L466.7,977.8 L467.1,974.7 L467.5,971.6 L467.8,968.5 L468.5,965.5 L469.1,962.5 L469.4,959.4 L469.9,956.3 L470.8,953.4 L471.5,950.4 L471.9,947.4 L472.5,944.4 L473.4,941.5 L474.1,938.5 L474.6,935.5 L475.4,932.6 L476.0,929.6 L476.7,926.7 L477.2,923.7 L478.0,920.8 L479.3,918.2 L480.2,915.3 L481.0,912.5 L482.0,909.7 L482.8,906.9 L483.6,904.1 L484.5,901.3 L485.7,898.6 L486.9,896.0 L487.9,893.2 L488.8,890.4 L490.1,887.9 L491.5,885.4 L492.8,882.9 L494.4,880.6 L495.6,878.0 L497.1,875.6 L498.7,873.3 L500.0,870.7 L501.3,868.1 L503.0,866.0 L505.0,864.1 L506.6,861.9 L508.2,859.6 L509.8,857.4 L511.4,855.1 L513.2,853.1 L515.2,851.2 L517.1,849.3 L519.1,847.6 L521.1,846.0 L523.3,844.5 L525.5,843.2 L527.5,841.6 L529.7,840.1 L531.9,838.8 L534.0,837.4 L536.3,836.3 L538.6,835.2 L540.9,834.1 L543.3,833.2 L545.6,832.0 L548.0,831.1 L550.6,830.9 L553.1,830.4 L555.5,829.3 L558.0,828.6 L560.5,827.9 L563.0,827.2 L565.5,826.8 L568.0,826.0 L570.6,825.6 L573.2,825.8 L575.7,825.5 L578.3,825.0 L580.8,824.8 L583.4,824.3 L585.9,824.0 L588.5,824.1 L591.0,823.6 L593.5,823.4 L596.0,822.9 L598.5,822.3 L601.1,822.2 L603.5,821.7 L606.1,821.4 L608.6,821.5 L611.1,821.4 L613.6,821.3 L616.1,820.8 L618.6,820.4 L621.1,820.3 L623.6,820.0 L626.1,819.8 L628.5,819.3 L631.0,818.8 L633.5,819.0 L636.0,819.1 L638.5,819.2 L641.0,819.0 L643.5,819.1 L646.0,818.7 L648.5,818.6 L651.0,818.6 L653.4,817.7 L655.9,817.6 L658.4,817.6 L660.9,817.6 L663.4,817.5 L665.9,817.6 L668.4,817.7 L670.9,817.2 L673.4,817.2 L676.0,817.4 L678.4,816.9 L681.0,816.9 L683.5,816.7 L686.0,816.4" stroke="#000" stroke-width="2.55"/>
<path d="M575.7,825.5 L578.3,825.0 L580.8,824.8 L583.4,824.3 L585.9,824.0 L588.5,824.1 L591.0,823.6 L593.5,823.4 L596.0,822.9 L598.5,822.3 L601.1,822.2 L603.5,821.7 L606.1,821.4 L608.6,821.5 L611.1,821.4 L613.6,821.3 L616.1,820.8 L618.6,820.4 L621.1,820.3 L623.6,820.0 L626.1,819.8 L628.5,819.3 L631.0,818.8 L633.5,819.0 L636.0,819.1 L638.5,819.2 L641.0,819.0 L643.5,819.1 L646.0,818.7 L648.5,818.6 L651.0,818.6 L653.4,817.7 L655.9,817.6 L658.4,817.6 L660.9,817.6 L663.4,817.5 L665.9,817.6 L668.4,817.7 L670.9,817.2 L673.4,817.2 L676.0,817.4 L678.4,816.9 L681.0,816.9 L683.5,816.7 L686.0,816.4" stroke="#000" stroke-width="3.60"/>
<path d="M90.0,1324.7 L92.5,1324.3 L95.0,1324.1 L97.5,1323.7 L100.0,1323.3 L102.5,1323.1 L105.0,1322.9 L107.4,1322.5 L109.9,1321.9 L112.4,1321.3 L114.9,1321.2 L117.4,1321.4 L119.9,1321.1 L122.4,1320.3 L124.9,1320.3 L127.4,1320.1 L129.9,1319.7 L132.3,1319.4 L134.8,1318.9 L137.3,1318.8 L139.8,1318.2 L142.3,1317.8 L144.8,1317.9 L147.3,1317.7 L149.8,1317.3 L152.3,1317.2 L154.8,1317.2 L157.3,1316.8 L159.7,1316.3 L162.2,1316.0 L164.8,1316.2 L167.3,1316.0 L169.8,1315.8 L172.2,1315.4 L174.7,1315.0 L177.2,1314.8 L179.7,1314.7 L182.2,1314.3 L184.7,1313.9 L187.2,1313.8 L189.7,1313.5 L192.2,1313.2 L194.6,1313.0 L197.1,1312.5 L199.6,1312.5 L202.1,1312.4 L204.6,1311.7 L207.1,1311.2 L209.5,1311.0 L212.0,1310.7 L214.5,1310.3 L217.0,1310.1 L219.5,1309.9 L222.0,1309.4 L224.5,1309.3 L227.0,1309.0 L229.4,1308.5 L231.9,1308.0 L234.4,1307.4 L236.9,1307.0 L239.4,1307.0 L241.9,1306.8 L244.3,1306.2 L246.8,1305.6 L249.3,1305.3 L251.7,1304.8 L254.2,1304.2 L256.7,1304.0 L259.2,1303.5 L261.6,1302.9 L264.1,1302.5 L266.6,1302.0 L269.1,1301.4 L271.6,1301.0 L274.0,1300.6 L276.5,1300.0 L278.9,1299.0 L281.4,1298.3 L283.9,1298.2 L286.3,1297.4 L288.7,1296.3 L291.2,1295.8 L293.7,1295.5 L296.2,1294.6 L298.6,1293.8 L301.1,1293.3 L303.5,1292.5 L306.0,1291.8 L308.5,1291.0 L310.9,1290.1 L313.3,1289.3 L315.9,1288.8 L318.3,1288.0 L320.7,1287.0 L323.1,1285.9 L325.4,1284.8 L327.8,1283.8 L330.3,1283.0 L332.7,1282.4 L335.1,1281.3 L337.4,1280.2 L339.7,1279.0 L342.0,1277.7 L344.4,1276.7 L346.7,1275.6 L349.0,1274.3 L351.3,1273.3 L353.5,1271.8 L355.6,1270.1 L357.9,1269.1 L360.2,1268.0 L362.4,1266.5 L364.6,1265.1 L366.6,1263.4 L368.7,1261.8 L370.9,1260.5 L372.8,1258.7 L374.8,1256.9 L376.7,1255.0 L378.5,1253.1 L380.4,1251.1 L382.3,1249.2 L384.2,1247.4 L386.1,1245.6 L387.9,1243.5 L389.5,1241.3 L391.3,1239.2 L393.0,1237.1 L394.6,1234.8 L396.5,1232.8 L398.0,1230.3 L399.4,1227.8 L401.0,1225.5 L402.8,1223.3 L404.2,1220.8 L405.5,1218.1 L406.9,1215.5 L408.1,1212.8 L409.3,1210.0 L410.8,1207.6 L412.3,1205.0 L413.5,1202.3 L414.7,1199.5 L415.8,1196.7 L416.7,1193.8 L417.7,1190.8 L418.9,1188.1 L420.2,1185.4 L421.3,1182.5 L422.1,1179.6 L422.9,1176.6 L423.9,1173.7 L425.0,1170.9 L425.9,1168.0 L426.7,1165.1 L427.7,1162.2 L428.4,1159.3 L429.0,1156.3 L429.8,1153.3 L430.3,1150.3 L431.2,1147.4 L432.0,1144.5 L432.5,1141.5 L433.3,1138.6 L434.3,1135.7 L434.9,1132.8 L435.2,1129.7 L436.0,1126.8 L436.6,1123.8 L437.3,1120.9 L437.8,1117.9 L438.1,1114.9 L439.0,1112.0 L439.5,1109.1 L439.9,1106.1 L440.3,1103.1 L440.9,1100.1 L441.7,1097.3 L442.2,1094.3 L442.5,1091.3 L443.2,1088.4 L443.9,1085.5 L444.3,1082.6 L444.7,1079.6 L445.0,1076.6 L445.7,1073.7 L446.2,1070.8 L446.5,1067.8 L447.0,1064.8 L447.5,1061.9 L448.1,1059.0 L448.5,1056.0 L448.8,1053.0 L449.1,1050.0 L449.6,1047.0 L450.2,1044.1 L450.7,1041.1 L451.2,1038.2 L451.5,1035.2 L451.9,1032.2 L452.5,1029.2 L452.9,1026.2 L453.3,1023.2 L453.7,1020.2 L454.1,1017.2 L454.6,1014.2 L455.2,1011.2 L455.5,1008.2 L455.9,1005.1 L456.4,1002.1 L457.0,999.1 L457.5,996.1 L457.7,993.0 L458.1,989.9 L458.7,986.9 L459.1,983.8 L459.7,980.8 L460.4,977.7 L460.7,974.6 L461.1,971.5 L461.3,968.4 L461.7,965.3 L462.3,962.3 L462.7,959.2 L463.4,956.2 L463.9,953.1 L464.6,950.1 L465.3,947.1 L465.7,944.0 L466.4,941.0 L467.2,938.1 L468.0,935.1 L468.7,932.2 L469.3,929.2 L469.9,926.2 L470.8,923.3 L471.9,920.5 L472.7,917.6 L473.5,914.7 L474.4,911.9 L475.5,909.2 L476.6,906.5 L477.5,903.7 L478.3,900.8 L479.6,898.3 L480.6,895.5 L481.5,892.8 L482.7,890.1 L483.9,887.5 L485.3,885.0 L486.6,882.6 L487.7,879.9 L489.4,877.7 L490.8,875.3 L492.2,872.8 L493.7,870.5 L495.2,868.2 L496.9,866.0 L498.5,863.8 L500.2,861.6 L502.1,859.6 L503.7,857.3 L505.2,855.0 L507.0,852.9 L508.8,850.8 L510.9,849.2 L512.9,847.4 L514.7,845.4 L516.9,843.9 L519.1,842.5 L521.1,840.9 L523.1,839.0 L525.2,837.4 L527.4,836.1 L529.7,834.9 L532.1,833.9 L534.4,832.8 L536.7,831.8 L539.2,831.2 L541.5,830.2 L543.7,828.6 L546.2,828.1 L548.5,827.0 L550.8,825.8 L553.3,825.3 L555.9,825.1 L558.3,824.3 L560.8,823.3 L563.1,822.1 L565.6,821.5 L568.3,821.8 L570.9,821.9 L573.3,821.0 L575.8,820.3 L578.4,820.5 L580.9,820.5 L583.4,819.6 L585.9,818.9 L588.5,818.8 L591.0,818.3 L593.5,818.5 L596.0,818.1 L598.5,817.6 L601.1,818.1 L603.6,817.9 L606.1,817.7 L608.6,816.8 L611.1,816.5 L613.6,817.0 L616.1,817.0 L618.6,816.4 L621.1,816.2 L623.6,816.2 L626.2,816.5 L628.7,816.5 L631.2,816.0 L633.7,816.0 L636.2,815.9 L638.7,816.4 L641.2,816.7 L643.7,816.3 L646.2,815.7 L648.6,815.5 L651.1,815.0 L653.6,815.0 L656.1,815.5 L658.6,815.3 L661.1,814.9 L663.6,815.2 L666.1,815.5 L668.6,815.1 L671.1,815.2 L673.6,815.0 L676.1,814.9 L678.5,814.7 L681.0,814.0 L683.5,813.7 L686.0,813.6" stroke="#858585" stroke-width="2.40"/>
<path d="M89.9,1323.6 L92.5,1323.2 L95.0,1323.0 L97.5,1322.4 L100.0,1322.4 L102.6,1322.3 L105.1,1321.6 L107.6,1321.2 L110.1,1320.9 L112.6,1320.4 L115.1,1320.3 L117.6,1320.2 L120.1,1319.7 L122.6,1319.4 L125.1,1319.1 L127.6,1318.8 L130.1,1318.5 L132.6,1318.1 L135.1,1317.8 L137.6,1317.3 L140.1,1317.0 L142.6,1317.1 L145.1,1317.1 L147.6,1316.7 L150.1,1316.1 L152.6,1315.9 L155.1,1315.7 L157.5,1315.1 L160.0,1314.8 L162.5,1314.4 L165.0,1314.6 L167.5,1314.7 L170.0,1313.7 L172.4,1313.3 L174.9,1313.2 L177.5,1313.2 L179.9,1313.1 L182.4,1312.6 L184.9,1312.5 L187.4,1312.6 L189.9,1312.1 L192.3,1311.6 L194.8,1311.3 L197.3,1311.1 L199.8,1311.0 L202.3,1310.6 L204.7,1310.1 L207.2,1310.0 L209.7,1309.8 L212.2,1309.4 L214.7,1309.3 L217.1,1308.6 L219.6,1308.1 L222.1,1307.9 L224.6,1307.4 L227.0,1307.0 L229.5,1306.8 L232.0,1306.2 L234.4,1305.7 L236.9,1305.6 L239.4,1305.2 L241.9,1304.6 L244.3,1304.0 L246.8,1303.7 L249.3,1303.4 L251.8,1302.9 L254.3,1302.6 L256.7,1302.1 L259.2,1301.4 L261.7,1301.1 L264.2,1300.7 L266.6,1300.1 L269.1,1299.6 L271.6,1298.7 L274.0,1297.8 L276.5,1297.5 L279.0,1296.7 L281.4,1295.8 L283.9,1295.6 L286.4,1294.9 L288.8,1294.1 L291.3,1293.3 L293.8,1292.9 L296.3,1292.2 L298.8,1291.2 L301.2,1290.2 L303.7,1289.4 L306.2,1288.9 L308.6,1287.8 L311.1,1287.0 L313.6,1286.1 L316.0,1285.1 L318.4,1284.1 L320.8,1283.0 L323.2,1281.9 L325.7,1281.0 L328.2,1280.1 L330.5,1278.9 L333.0,1278.1 L335.4,1277.0 L337.7,1275.6 L340.0,1274.3 L342.4,1273.3 L344.7,1272.1 L346.9,1270.6 L349.2,1269.2 L351.5,1268.1 L353.8,1266.7 L356.0,1265.4 L358.3,1264.1 L360.5,1262.7 L362.5,1260.9 L364.5,1259.1 L366.6,1257.5 L368.7,1255.9 L370.7,1254.2 L372.7,1252.5 L374.7,1250.8 L376.6,1248.9 L378.5,1247.0 L380.5,1245.3 L382.4,1243.5 L384.2,1241.4 L385.9,1239.3 L387.6,1237.3 L389.3,1235.2 L391.0,1233.0 L392.6,1230.8 L394.3,1228.7 L396.0,1226.5 L397.3,1224.0 L398.7,1221.5 L400.2,1219.1 L401.5,1216.6 L402.8,1214.1 L404.1,1211.5 L405.5,1209.0 L406.7,1206.4 L407.8,1203.7 L409.2,1201.1 L410.4,1198.4 L411.4,1195.6 L412.5,1192.8 L413.5,1190.0 L414.5,1187.1 L415.6,1184.4 L416.7,1181.5 L417.4,1178.5 L418.5,1175.7 L419.5,1172.8 L420.1,1169.8 L421.0,1166.8 L422.0,1163.9 L422.9,1160.9 L423.6,1157.9 L424.3,1154.9 L425.1,1151.9 L425.7,1148.8 L426.6,1145.9 L427.5,1142.9 L428.3,1139.9 L429.0,1136.9 L429.5,1133.8 L430.1,1130.7 L431.0,1127.7 L431.8,1124.8 L432.0,1121.6 L432.7,1118.6 L433.4,1115.6 L434.2,1112.7 L435.0,1109.7 L435.3,1106.6 L435.8,1103.7 L436.5,1100.7 L436.9,1097.7 L437.4,1094.7 L438.0,1091.8 L438.4,1088.8 L439.0,1085.8 L439.6,1082.9 L440.1,1080.0 L440.6,1077.0 L441.0,1074.1 L441.8,1071.2 L442.5,1068.3 L442.8,1065.3 L443.6,1062.5 L444.0,1059.5 L444.0,1056.5 L444.3,1053.5 L444.7,1050.5 L445.5,1047.7 L445.9,1044.7 L446.1,1041.7 L446.7,1038.8 L447.4,1035.9 L448.1,1033.1 L448.4,1030.1 L448.7,1027.1 L449.1,1024.1 L449.6,1021.1 L450.3,1018.3 L450.5,1015.2 L451.1,1012.3 L451.7,1009.3 L452.0,1006.3 L452.5,1003.3 L453.0,1000.3 L453.5,997.3 L453.7,994.2 L454.0,991.1 L454.5,988.1 L455.1,985.1 L455.8,982.0 L456.2,979.0 L456.5,975.9 L456.9,972.8 L457.5,969.7 L458.1,966.6 L458.7,963.6 L459.3,960.5 L460.0,957.5 L460.3,954.3 L460.9,951.3 L461.8,948.3 L462.1,945.2 L462.6,942.1 L463.2,939.1 L463.8,936.0 L464.3,933.0 L465.1,930.0 L465.8,927.0 L466.2,923.9 L467.1,921.0 L468.0,918.1 L468.8,915.2 L469.9,912.4 L470.7,909.5 L471.7,906.7 L472.7,903.9 L473.4,901.0 L474.6,898.3 L475.8,895.6 L476.8,892.9 L477.8,890.1 L479.0,887.5 L480.3,885.0 L481.7,882.5 L483.1,880.0 L484.3,877.5 L485.6,874.9 L487.1,872.5 L488.9,870.5 L490.5,868.3 L491.8,865.6 L493.3,863.3 L495.1,861.2 L496.7,859.0 L498.4,856.8 L500.2,854.7 L501.9,852.6 L503.9,850.8 L505.9,848.9 L507.8,847.0 L509.8,845.2 L511.9,843.6 L513.9,841.9 L516.0,840.3 L518.1,838.7 L520.3,837.3 L522.6,835.9 L524.8,834.7 L527.1,833.4 L529.3,831.9 L531.5,830.7 L533.9,829.8 L536.2,828.6 L538.5,827.4 L540.8,825.9 L543.3,825.6 L545.9,825.3 L548.3,824.5 L550.7,823.4 L553.0,821.8 L555.5,821.6 L558.1,821.4 L560.6,820.8 L563.1,820.3 L565.6,820.0 L568.1,819.6 L570.6,819.0 L573.2,818.8 L575.7,818.3 L578.2,817.8 L580.8,817.9 L583.3,817.7 L585.8,817.1 L588.4,817.0 L590.9,816.7 L593.4,816.5 L595.9,816.7 L598.5,816.7 L600.9,815.6 L603.4,814.6 L605.9,814.6 L608.4,814.4 L610.9,813.8 L613.4,814.0 L616.0,814.3 L618.5,814.5 L621.0,814.8 L623.5,815.2 L626.0,814.8 L628.5,814.0 L631.0,814.1 L633.5,814.5 L636.0,814.3 L638.5,813.7 L641.0,813.0 L643.5,813.4 L646.0,814.0 L648.5,814.1 L651.0,814.5 L653.5,814.5 L656.0,814.1 L658.5,813.8 L661.0,813.2 L663.5,813.0 L666.0,813.2 L668.5,813.2 L671.0,813.1 L673.5,812.6 L676.0,812.4 L678.5,812.8 L681.0,812.9 L683.5,812.1 L686.0,812.1" stroke="#000" stroke-width="2.55"/>
<path d="M89.9,1322.5 L92.5,1322.1 L95.0,1322.1 L97.5,1321.6 L100.0,1321.1 L102.5,1320.5 L105.0,1320.3 L107.6,1320.2 L110.1,1319.9 L112.6,1319.5 L115.1,1318.9 L117.6,1318.8 L120.1,1318.6 L122.6,1318.1 L125.1,1317.9 L127.6,1317.7 L130.1,1317.2 L132.6,1316.7 L135.1,1316.6 L137.6,1316.5 L140.1,1316.1 L142.6,1315.8 L145.1,1315.5 L147.6,1315.2 L150.1,1315.3 L152.6,1315.3 L155.1,1314.8 L157.6,1314.3 L160.0,1314.0 L162.5,1313.6 L165.0,1313.3 L167.5,1313.2 L170.0,1312.8 L172.5,1312.4 L174.9,1312.1 L177.4,1312.0 L179.9,1311.8 L182.4,1311.4 L184.9,1311.1 L187.4,1311.0 L189.9,1310.6 L192.4,1310.5 L194.8,1310.2 L197.3,1309.5 L199.8,1309.3 L202.2,1309.0 L204.7,1308.8 L207.2,1308.7 L209.7,1308.2 L212.2,1307.8 L214.6,1307.5 L217.1,1307.0 L219.6,1306.4 L222.0,1305.8 L224.5,1305.6 L227.0,1305.8 L229.5,1305.3 L231.9,1304.6 L234.4,1304.2 L236.9,1303.9 L239.3,1303.4 L241.8,1302.9 L244.3,1302.6 L246.8,1302.1 L249.2,1301.5 L251.7,1301.0 L254.2,1300.6 L256.6,1300.2 L259.1,1299.7 L261.6,1299.1 L264.0,1298.2 L266.4,1297.5 L268.9,1297.1 L271.4,1296.6 L273.9,1296.0 L276.3,1295.1 L278.7,1294.2 L281.2,1293.6 L283.7,1293.0 L286.2,1292.3 L288.6,1291.4 L291.1,1290.8 L293.5,1290.1 L296.0,1289.1 L298.4,1288.4 L300.9,1287.7 L303.4,1286.8 L305.9,1286.0 L308.3,1285.0 L310.7,1283.9 L313.2,1283.0 L315.6,1282.2 L318.1,1281.2 L320.5,1280.2 L322.9,1279.1 L325.2,1277.8 L327.7,1277.0 L330.0,1275.7 L332.3,1274.1 L334.7,1273.2 L337.2,1272.3 L339.5,1271.1 L341.8,1269.8 L344.1,1268.5 L346.3,1267.0 L348.5,1265.5 L350.8,1264.2 L353.0,1262.6 L355.1,1260.9 L357.3,1259.4 L359.5,1258.2 L361.8,1256.8 L363.7,1254.9 L365.7,1253.0 L367.8,1251.4 L369.8,1249.8 L371.9,1248.1 L373.8,1246.3 L375.6,1244.3 L377.6,1242.5 L379.6,1240.8 L381.3,1238.6 L383.0,1236.5 L384.9,1234.6 L386.7,1232.6 L388.3,1230.4 L389.9,1228.1 L391.6,1226.0 L393.1,1223.6 L394.5,1221.3 L396.3,1219.1 L397.6,1216.6 L399.0,1214.1 L400.5,1211.8 L401.6,1209.1 L402.9,1206.5 L404.4,1204.0 L405.6,1201.4 L406.6,1198.6 L407.5,1195.7 L408.5,1193.0 L409.9,1190.4 L411.1,1187.7 L412.3,1185.0 L413.5,1182.2 L414.6,1179.5 L415.6,1176.6 L416.7,1173.8 L417.6,1170.9 L418.3,1167.9 L419.0,1164.9 L419.8,1161.9 L420.8,1159.0 L421.7,1156.0 L422.3,1153.0 L423.0,1149.9 L423.7,1146.9 L424.5,1143.9 L425.2,1140.9 L426.0,1137.9 L426.8,1134.9 L427.5,1131.9 L428.2,1128.9 L428.8,1125.8 L429.4,1122.8 L430.0,1119.7 L430.3,1116.6 L431.0,1113.7 L431.7,1110.7 L432.3,1107.6 L433.0,1104.7 L433.5,1101.7 L434.0,1098.7 L434.5,1095.7 L435.0,1092.7 L435.5,1089.7 L436.0,1086.7 L436.5,1083.8 L437.1,1080.8 L437.5,1077.9 L437.9,1074.9 L438.3,1071.9 L438.6,1068.9 L439.1,1066.0 L439.6,1063.0 L440.3,1060.2 L440.9,1057.2 L441.1,1054.2 L441.6,1051.3 L442.0,1048.4 L442.3,1045.4 L442.8,1042.5 L443.5,1039.6 L444.0,1036.6 L444.5,1033.7 L445.0,1030.8 L445.2,1027.7 L445.5,1024.8 L446.2,1021.8 L446.4,1018.8 L446.6,1015.8 L447.2,1012.9 L447.6,1009.9 L448.0,1006.9 L448.7,1003.9 L449.2,1001.0 L449.4,997.9 L449.8,994.9 L450.1,991.8 L450.7,988.8 L451.2,985.8 L452.0,982.8 L452.6,979.8 L452.6,976.6 L452.9,973.5 L453.4,970.5 L454.1,967.4 L454.6,964.4 L455.1,961.3 L455.8,958.3 L456.3,955.2 L456.9,952.1 L457.4,949.1 L457.9,946.0 L458.3,942.9 L458.8,939.8 L459.6,936.8 L460.5,933.9 L461.3,930.9 L461.8,927.9 L462.7,924.9 L463.4,922.0 L464.0,918.9 L464.8,916.0 L465.7,913.1 L466.7,910.3 L467.6,907.4 L468.3,904.5 L469.5,901.8 L470.7,899.1 L471.7,896.3 L472.9,893.6 L474.0,890.9 L475.2,888.3 L476.4,885.7 L477.4,882.9 L478.8,880.5 L480.2,878.0 L481.4,875.4 L482.8,872.9 L484.1,870.4 L485.7,868.1 L487.3,865.8 L488.9,863.5 L490.6,861.4 L492.4,859.3 L494.0,857.0 L495.7,854.9 L497.5,852.8 L499.5,851.0 L501.2,848.8 L503.0,846.6 L505.0,844.9 L507.1,843.2 L509.2,841.6 L511.2,839.9 L513.5,838.5 L515.6,837.0 L517.7,835.4 L519.9,833.9 L522.0,832.3 L524.3,830.9 L526.6,830.0 L529.0,828.8 L531.2,827.5 L533.7,826.9 L536.1,826.1 L538.4,824.9 L540.8,824.0 L543.2,822.9 L545.7,822.4 L548.2,822.2 L550.6,821.3 L553.1,820.4 L555.6,820.5 L558.2,820.0 L560.6,819.3 L563.2,819.6 L565.7,818.8 L568.2,817.9 L570.7,817.5 L573.2,816.7 L575.8,816.9 L578.4,817.3 L580.9,816.7 L583.4,816.4 L585.9,816.1 L588.4,815.4 L590.9,815.1 L593.5,815.1 L596.0,814.8 L598.5,815.0 L601.0,814.8 L603.5,814.1 L606.0,814.2 L608.5,814.4 L611.0,814.6 L613.5,814.4 L616.0,813.5 L618.5,813.0 L621.0,813.5 L623.5,813.4 L626.0,813.2 L628.5,813.6 L630.9,813.1 L633.4,812.1 L635.9,812.3 L638.4,812.6 L640.9,812.7 L643.4,812.3 L645.9,812.1 L648.4,812.3 L650.8,811.7 L653.3,811.6 L655.8,812.1 L658.4,812.5 L660.8,812.2 L663.3,811.8 L665.8,811.6 L668.4,811.6 L670.9,811.9 L673.4,812.0 L675.9,811.6 L678.4,810.9 L680.9,810.7 L683.5,811.4 L686.0,811.3" stroke="#000" stroke-width="2.55"/>
<path d="M575.8,816.9 L578.4,817.3 L580.9,816.7 L583.4,816.4 L585.9,816.1 L588.4,815.4 L590.9,815.1 L593.5,815.1 L596.0,814.8 L598.5,815.0 L601.0,814.8 L603.5,814.1 L606.0,814.2 L608.5,814.4 L611.0,814.6 L613.5,814.4 L616.0,813.5 L618.5,813.0 L621.0,813.5 L623.5,813.4 L626.0,813.2 L628.5,813.6 L630.9,813.1 L633.4,812.1 L635.9,812.3 L638.4,812.6 L640.9,812.7 L643.4,812.3 L645.9,812.1 L648.4,812.3 L650.8,811.7 L653.3,811.6 L655.8,812.1 L658.4,812.5 L660.8,812.2 L663.3,811.8 L665.8,811.6 L668.4,811.6 L670.9,811.9 L673.4,812.0 L675.9,811.6 L678.4,810.9 L680.9,810.7 L683.5,811.4 L686.0,811.3" stroke="#000" stroke-width="3.20"/>
<path d="M89.9,1321.4 L92.4,1320.6 L95.0,1320.6 L97.5,1320.5 L100.0,1320.0 L102.5,1319.4 L105.0,1318.9 L107.5,1318.5 L110.0,1318.0 L112.5,1318.0 L115.1,1318.1 L117.6,1317.6 L120.0,1316.9 L122.5,1316.5 L125.1,1316.4 L127.6,1316.5 L130.1,1316.1 L132.6,1315.4 L135.1,1315.0 L137.6,1314.8 L140.1,1314.7 L142.6,1314.5 L145.1,1314.6 L147.6,1314.2 L150.0,1313.4 L152.5,1313.3 L155.1,1313.3 L157.5,1312.7 L160.0,1312.5 L162.5,1312.4 L165.0,1312.2 L167.5,1311.9 L170.0,1311.6 L172.5,1311.3 L175.0,1310.9 L177.4,1310.4 L179.9,1310.2 L182.4,1310.0 L184.9,1309.5 L187.3,1309.1 L189.9,1309.3 L192.4,1309.3 L194.9,1309.0 L197.3,1308.7 L199.8,1308.3 L202.3,1308.0 L204.8,1307.7 L207.2,1307.0 L209.7,1306.5 L212.2,1306.3 L214.6,1306.0 L217.1,1305.5 L219.6,1305.0 L222.0,1304.7 L224.5,1304.2 L227.0,1304.1 L229.5,1303.9 L231.9,1302.8 L234.4,1302.4 L236.9,1302.1 L239.3,1301.5 L241.8,1301.1 L244.3,1300.8 L246.7,1300.3 L249.2,1299.7 L251.7,1299.1 L254.2,1298.9 L256.6,1298.3 L259.0,1297.3 L261.4,1296.5 L263.9,1296.0 L266.4,1295.5 L268.9,1294.9 L271.3,1294.4 L273.8,1293.5 L276.2,1292.8 L278.7,1292.1 L281.1,1291.3 L283.5,1290.5 L286.0,1289.8 L288.5,1289.1 L290.9,1288.2 L293.4,1287.4 L295.8,1286.5 L298.3,1285.9 L300.8,1285.3 L303.2,1284.1 L305.6,1283.1 L308.1,1282.1 L310.5,1281.1 L312.9,1280.0 L315.3,1279.0 L317.8,1278.2 L320.2,1277.1 L322.6,1276.1 L325.0,1274.9 L327.4,1273.6 L329.8,1272.7 L332.2,1271.5 L334.5,1270.2 L336.9,1269.1 L339.2,1267.9 L341.5,1266.4 L343.7,1264.9 L345.9,1263.4 L348.1,1262.0 L350.5,1260.8 L352.7,1259.5 L354.7,1257.6 L356.9,1256.1 L359.2,1254.7 L361.2,1252.9 L363.2,1251.2 L365.5,1249.9 L367.5,1248.1 L369.3,1246.1 L371.5,1244.6 L373.4,1242.7 L375.0,1240.4 L376.8,1238.3 L378.7,1236.5 L380.7,1234.7 L382.4,1232.5 L383.8,1230.2 L385.7,1228.2 L387.5,1226.2 L389.0,1223.9 L390.5,1221.5 L392.2,1219.4 L393.7,1217.1 L395.0,1214.5 L396.3,1212.0 L397.8,1209.6 L399.1,1207.1 L400.4,1204.5 L401.9,1202.2 L403.3,1199.7 L404.5,1197.0 L405.7,1194.3 L406.8,1191.6 L407.8,1188.8 L408.7,1185.9 L409.8,1183.2 L411.1,1180.5 L412.1,1177.7 L413.0,1174.8 L413.8,1171.8 L414.6,1168.9 L415.5,1166.0 L416.4,1163.1 L417.4,1160.2 L418.2,1157.2 L419.2,1154.3 L419.9,1151.3 L420.6,1148.3 L421.5,1145.3 L422.2,1142.3 L422.9,1139.3 L423.7,1136.3 L424.3,1133.2 L425.0,1130.2 L425.7,1127.2 L426.3,1124.1 L426.8,1121.1 L427.2,1118.0 L427.9,1115.0 L428.9,1112.1 L429.3,1109.0 L429.5,1105.9 L430.1,1102.9 L430.7,1099.9 L431.4,1096.9 L432.1,1094.0 L432.6,1091.0 L433.0,1088.0 L433.6,1085.0 L433.9,1082.0 L434.4,1079.1 L435.0,1076.1 L435.6,1073.2 L436.1,1070.3 L436.6,1067.3 L436.9,1064.3 L437.2,1061.4 L437.6,1058.4 L438.2,1055.5 L438.8,1052.6 L439.4,1049.7 L439.8,1046.7 L440.1,1043.7 L440.6,1040.8 L440.7,1037.8 L441.0,1034.8 L441.7,1031.9 L442.3,1029.0 L442.6,1026.0 L443.2,1023.1 L443.7,1020.2 L444.0,1017.2 L444.6,1014.2 L444.9,1011.2 L445.4,1008.2 L445.7,1005.2 L445.9,1002.2 L446.6,999.3 L447.4,996.3 L447.8,993.3 L448.0,990.2 L448.3,987.2 L448.8,984.1 L449.2,981.0 L449.8,978.0 L450.3,975.0 L450.9,971.9 L451.3,968.8 L451.6,965.7 L452.1,962.6 L452.5,959.5 L453.4,956.5 L454.3,953.5 L454.7,950.4 L455.2,947.3 L455.8,944.2 L456.3,941.1 L456.5,937.9 L456.9,934.8 L458.0,931.9 L458.6,928.9 L459.4,925.9 L460.6,923.1 L461.2,920.0 L461.9,917.1 L462.8,914.1 L463.5,911.2 L464.5,908.3 L465.4,905.5 L466.1,902.5 L467.3,899.8 L468.4,897.1 L469.2,894.2 L470.4,891.5 L471.7,889.0 L472.7,886.2 L473.7,883.4 L474.8,880.7 L476.0,878.2 L477.6,875.9 L478.9,873.3 L480.0,870.7 L481.4,868.2 L482.8,865.8 L484.4,863.5 L486.1,861.4 L487.8,859.3 L489.3,857.0 L491.1,854.9 L493.1,853.2 L495.0,851.2 L496.6,849.0 L498.5,847.1 L500.5,845.3 L502.3,843.2 L504.3,841.4 L506.3,839.6 L508.4,838.1 L510.7,836.8 L512.7,835.1 L514.8,833.3 L517.2,832.3 L519.5,831.1 L521.8,830.0 L524.1,828.9 L526.3,827.3 L528.6,826.3 L531.1,825.6 L533.3,824.2 L535.7,823.2 L538.2,822.8 L540.6,821.8 L543.0,820.8 L545.6,820.6 L548.1,820.3 L550.6,820.0 L553.0,818.8 L555.4,817.6 L557.9,817.2 L560.5,817.1 L563.1,816.8 L565.6,816.3 L568.1,815.7 L570.7,815.8 L573.2,815.6 L575.7,814.9 L578.3,814.7 L580.8,814.7 L583.3,814.4 L585.9,814.5 L588.4,814.0 L590.9,813.6 L593.5,813.9 L596.0,813.5 L598.5,813.2 L601.0,813.3 L603.5,813.2 L606.0,812.9 L608.5,812.3 L611.0,812.0 L613.5,812.2 L616.0,812.2 L618.5,812.0 L621.0,811.9 L623.5,811.4 L626.0,811.6 L628.5,811.7 L631.0,811.9 L633.5,812.8 L636.0,812.5 L638.4,811.8 L640.9,811.4 L643.4,810.9 L645.9,810.9 L648.4,811.4 L650.9,811.4 L653.4,810.7 L655.9,810.8 L658.4,811.0 L660.9,811.0 L663.4,811.0 L665.9,810.6 L668.4,810.4 L670.9,810.7 L673.4,810.6 L675.9,810.6 L678.4,810.5 L681.0,810.4 L683.5,810.2 L686.0,810.1" stroke="#000" stroke-width="2.55"/>
<path d="M90.0,1320.3 L92.5,1320.2 L95.0,1319.7 L97.5,1319.2 L100.0,1318.7 L102.4,1318.1 L104.9,1317.9 L107.5,1318.0 L109.9,1317.6 L112.4,1316.7 L114.8,1316.0 L117.4,1316.0 L119.9,1316.1 L122.4,1315.7 L124.9,1315.4 L127.3,1315.0 L129.9,1314.9 L132.4,1314.8 L134.8,1314.1 L137.3,1313.6 L139.8,1313.7 L142.3,1313.5 L144.8,1312.7 L147.2,1312.3 L149.8,1312.3 L152.2,1311.7 L154.7,1311.6 L157.2,1311.9 L159.7,1311.5 L162.2,1310.9 L164.7,1310.6 L167.2,1310.4 L169.6,1310.1 L172.1,1310.0 L174.6,1309.5 L177.1,1309.1 L179.6,1309.3 L182.1,1309.0 L184.6,1308.4 L187.0,1308.2 L189.5,1307.7 L192.0,1307.2 L194.5,1307.3 L197.0,1307.2 L199.4,1306.4 L201.9,1306.2 L204.4,1305.9 L206.8,1305.3 L209.3,1304.9 L211.8,1304.5 L214.2,1304.0 L216.8,1304.0 L219.2,1303.7 L221.7,1303.1 L224.2,1302.9 L226.7,1302.6 L229.1,1301.9 L231.5,1301.2 L234.0,1300.7 L236.5,1300.6 L239.0,1300.1 L241.5,1299.7 L243.9,1299.3 L246.3,1298.3 L248.8,1297.7 L251.3,1297.6 L253.7,1297.0 L256.2,1296.3 L258.7,1295.9 L261.1,1295.1 L263.6,1294.5 L266.1,1294.2 L268.5,1293.5 L270.9,1292.4 L273.3,1291.6 L275.8,1291.3 L278.3,1290.6 L280.8,1290.1 L283.2,1289.2 L285.6,1288.2 L287.9,1287.0 L290.3,1286.0 L292.9,1285.7 L295.3,1284.8 L297.7,1283.7 L300.1,1282.7 L302.5,1281.8 L305.0,1280.9 L307.4,1280.1 L309.9,1279.3 L312.3,1278.2 L314.6,1277.0 L317.0,1275.8 L319.5,1275.1 L321.7,1273.6 L324.0,1272.2 L326.5,1271.5 L328.9,1270.5 L331.3,1269.4 L333.6,1268.1 L335.9,1266.8 L338.2,1265.5 L340.5,1264.1 L342.7,1262.6 L344.8,1261.1 L347.0,1259.6 L349.3,1258.3 L351.6,1257.0 L353.7,1255.4 L355.7,1253.6 L357.9,1252.2 L359.9,1250.5 L362.1,1249.0 L364.1,1247.3 L366.0,1245.3 L367.9,1243.5 L370.0,1241.9 L372.0,1240.1 L373.8,1238.2 L375.5,1236.1 L377.4,1234.1 L379.2,1232.2 L380.8,1229.9 L382.5,1227.9 L384.2,1225.7 L385.8,1223.6 L387.7,1221.7 L389.2,1219.3 L390.5,1216.8 L392.1,1214.6 L393.7,1212.3 L395.1,1209.8 L396.2,1207.2 L397.3,1204.5 L399.0,1202.3 L400.3,1199.7 L401.3,1196.9 L402.6,1194.3 L403.8,1191.7 L404.9,1189.0 L405.7,1186.1 L406.9,1183.4 L408.1,1180.7 L409.1,1177.9 L410.4,1175.2 L411.1,1172.2 L411.9,1169.3 L413.2,1166.6 L414.2,1163.7 L415.0,1160.8 L415.6,1157.7 L416.4,1154.7 L417.1,1151.7 L418.0,1148.8 L418.9,1145.8 L419.6,1142.8 L420.0,1139.7 L420.5,1136.6 L421.4,1133.7 L422.1,1130.6 L422.6,1127.6 L423.4,1124.6 L424.0,1121.5 L424.8,1118.5 L425.5,1115.5 L425.8,1112.4 L426.3,1109.4 L427.0,1106.4 L427.7,1103.4 L428.0,1100.3 L428.1,1097.2 L428.7,1094.2 L429.5,1091.3 L430.1,1088.3 L430.6,1085.4 L431.1,1082.4 L431.6,1079.4 L432.0,1076.5 L432.6,1073.5 L433.2,1070.6 L433.7,1067.7 L434.1,1064.7 L434.5,1061.7 L434.9,1058.8 L435.3,1055.8 L435.6,1052.9 L436.2,1050.0 L436.8,1047.1 L437.4,1044.2 L437.9,1041.2 L438.3,1038.3 L439.0,1035.4 L439.2,1032.4 L439.3,1029.4 L439.6,1026.5 L440.3,1023.6 L440.8,1020.6 L441.2,1017.7 L441.6,1014.7 L441.9,1011.7 L442.5,1008.8 L443.0,1005.8 L443.4,1002.8 L443.8,999.9 L444.3,996.9 L444.7,993.9 L445.2,990.9 L445.6,987.8 L446.3,984.9 L446.9,981.9 L446.9,978.7 L447.2,975.6 L447.6,972.6 L448.4,969.6 L448.9,966.5 L449.6,963.5 L450.1,960.4 L450.4,957.2 L450.9,954.2 L451.5,951.1 L452.1,948.0 L452.6,944.9 L453.3,941.9 L453.8,938.8 L454.5,935.7 L455.3,932.8 L456.0,929.7 L456.6,926.7 L457.4,923.7 L458.2,920.7 L458.8,917.7 L459.7,914.8 L460.7,911.9 L461.5,909.0 L462.6,906.2 L463.3,903.2 L463.9,900.2 L464.9,897.4 L466.1,894.7 L467.1,891.9 L468.1,889.2 L469.5,886.7 L470.7,884.1 L471.7,881.3 L473.1,878.9 L474.5,876.4 L475.5,873.7 L476.7,871.2 L478.4,868.9 L479.9,866.6 L481.2,864.2 L482.6,861.8 L484.2,859.6 L485.9,857.5 L487.5,855.3 L489.1,853.2 L490.9,851.2 L492.7,849.2 L494.6,847.4 L496.4,845.5 L498.3,843.5 L500.2,841.7 L502.3,840.1 L504.4,838.7 L506.5,837.1 L508.4,835.1 L510.7,834.0 L513.0,833.0 L515.1,831.4 L517.3,830.0 L519.5,828.6 L521.9,827.6 L524.1,826.3 L526.4,825.0 L528.8,824.3 L531.2,823.5 L533.6,822.5 L536.0,821.5 L538.4,820.7 L540.7,819.5 L543.1,818.4 L545.7,818.2 L548.1,817.6 L550.6,816.6 L553.2,816.8 L555.7,816.1 L558.1,815.3 L560.8,815.6 L563.3,815.5 L565.8,814.8 L568.3,813.8 L570.8,813.8 L573.4,813.8 L575.9,813.1 L578.4,812.4 L580.9,811.6 L583.5,811.7 L586.0,812.0 L588.5,811.3 L591.1,811.5 L593.6,811.8 L596.1,811.3 L598.7,811.0 L601.2,811.2 L603.7,811.3 L606.2,810.9 L608.7,810.9 L611.2,811.0 L613.7,810.4 L616.2,810.4 L618.8,810.6 L621.3,810.9 L623.8,811.1 L626.3,810.1 L628.7,809.6 L631.2,810.4 L633.7,810.8 L636.2,810.3 L638.7,810.0 L641.2,810.7 L643.7,810.2 L646.2,810.0 L648.7,810.9 L651.2,810.4 L653.7,810.0 L656.1,810.2 L658.6,810.2 L661.1,810.2 L663.6,810.4 L666.1,810.0 L668.6,809.6 L671.1,809.8 L673.5,809.6 L676.0,809.3 L678.5,809.7 L681.0,809.0 L683.4,808.5 L685.9,808.7" stroke="#000" stroke-width="2.55"/>
<path d="M575.9,813.1 L578.4,812.4 L580.9,811.6 L583.5,811.7 L586.0,812.0 L588.5,811.3 L591.1,811.5 L593.6,811.8 L596.1,811.3 L598.7,811.0 L601.2,811.2 L603.7,811.3 L606.2,810.9 L608.7,810.9 L611.2,811.0 L613.7,810.4 L616.2,810.4 L618.8,810.6 L621.3,810.9 L623.8,811.1 L626.3,810.1 L628.7,809.6 L631.2,810.4 L633.7,810.8 L636.2,810.3 L638.7,810.0 L641.2,810.7 L643.7,810.2 L646.2,810.0 L648.7,810.9 L651.2,810.4 L653.7,810.0 L656.1,810.2 L658.6,810.2 L661.1,810.2 L663.6,810.4 L666.1,810.0 L668.6,809.6 L671.1,809.8 L673.5,809.6 L676.0,809.3 L678.5,809.7 L681.0,809.0 L683.4,808.5 L685.9,808.7" stroke="#000" stroke-width="3.20"/>
<path d="M90.0,1319.2 L92.5,1318.6 L95.0,1318.4 L97.5,1318.2 L100.0,1317.7 L102.4,1317.3 L105.0,1317.2 L107.4,1316.8 L109.9,1316.4 L112.4,1316.1 L114.9,1315.7 L117.4,1315.2 L119.9,1314.9 L122.4,1314.8 L124.9,1314.6 L127.4,1314.4 L129.8,1313.6 L132.3,1313.4 L134.9,1313.4 L137.4,1313.1 L139.8,1312.6 L142.3,1312.0 L144.8,1312.0 L147.3,1311.7 L149.8,1311.3 L152.3,1311.1 L154.8,1310.6 L157.3,1310.3 L159.7,1310.0 L162.2,1309.8 L164.7,1309.5 L167.2,1309.1 L169.7,1308.9 L172.2,1308.7 L174.7,1308.6 L177.2,1308.0 L179.7,1307.6 L182.2,1307.4 L184.6,1307.0 L187.1,1306.7 L189.6,1306.7 L192.1,1306.6 L194.6,1306.0 L197.1,1305.3 L199.6,1305.3 L202.1,1305.0 L204.6,1304.7 L207.0,1304.2 L209.5,1303.7 L212.0,1303.3 L214.4,1302.3 L216.9,1302.1 L219.4,1302.0 L221.8,1301.5 L224.3,1301.2 L226.8,1300.8 L229.3,1300.2 L231.7,1299.3 L234.2,1299.3 L236.7,1299.2 L239.2,1298.5 L241.6,1297.5 L244.0,1297.1 L246.6,1297.2 L249.0,1296.5 L251.4,1295.5 L253.9,1294.8 L256.3,1294.3 L258.8,1293.8 L261.2,1292.9 L263.6,1292.2 L266.2,1291.9 L268.6,1291.2 L271.0,1290.4 L273.5,1290.0 L276.0,1289.3 L278.3,1288.1 L280.8,1287.4 L283.2,1286.7 L285.6,1285.5 L288.1,1284.9 L290.5,1284.1 L292.9,1283.1 L295.4,1282.7 L297.9,1281.9 L300.3,1280.8 L302.7,1279.9 L305.1,1279.0 L307.5,1277.9 L310.0,1277.1 L312.3,1275.8 L314.7,1274.8 L317.1,1273.9 L319.5,1272.5 L321.8,1271.4 L324.2,1270.2 L326.5,1268.9 L328.9,1267.8 L331.2,1266.6 L333.5,1265.3 L335.9,1264.2 L338.1,1262.7 L340.3,1261.2 L342.6,1259.9 L344.8,1258.6 L347.0,1257.1 L349.2,1255.6 L351.3,1254.0 L353.4,1252.4 L355.6,1250.9 L357.8,1249.4 L359.7,1247.5 L361.6,1245.6 L363.7,1244.1 L365.7,1242.3 L367.6,1240.4 L369.7,1238.8 L371.7,1237.1 L373.4,1235.0 L375.0,1232.7 L376.9,1230.9 L378.8,1229.0 L380.4,1226.8 L382.1,1224.6 L383.9,1222.6 L385.5,1220.5 L387.0,1218.1 L388.5,1215.8 L390.0,1213.5 L391.5,1211.1 L392.9,1208.7 L394.3,1206.2 L395.6,1203.7 L396.8,1201.1 L398.1,1198.5 L399.4,1196.0 L400.5,1193.3 L401.6,1190.6 L403.0,1188.0 L404.0,1185.2 L404.6,1182.2 L405.6,1179.4 L406.7,1176.6 L407.8,1173.8 L408.5,1170.8 L409.2,1167.8 L410.4,1165.0 L411.4,1162.1 L412.2,1159.2 L413.3,1156.3 L413.6,1153.1 L414.3,1150.1 L415.5,1147.2 L416.1,1144.2 L416.8,1141.1 L417.6,1138.1 L418.2,1135.0 L419.1,1132.1 L419.7,1129.0 L420.0,1125.8 L420.7,1122.8 L421.6,1119.8 L422.2,1116.7 L422.7,1113.6 L423.2,1110.5 L424.0,1107.5 L424.4,1104.4 L424.6,1101.3 L425.4,1098.3 L425.9,1095.3 L426.4,1092.2 L426.9,1089.2 L427.2,1086.2 L427.9,1083.2 L428.5,1080.2 L428.8,1077.2 L429.5,1074.3 L430.1,1071.4 L430.4,1068.4 L430.9,1065.4 L431.2,1062.5 L431.7,1059.5 L432.3,1056.6 L432.9,1053.7 L433.4,1050.8 L433.8,1047.9 L434.4,1045.0 L435.0,1042.1 L435.3,1039.2 L435.7,1036.2 L436.3,1033.4 L436.8,1030.5 L437.3,1027.6 L437.6,1024.6 L438.0,1021.7 L438.5,1018.8 L439.1,1015.9 L439.4,1012.9 L439.7,1009.9 L440.2,1007.0 L440.8,1004.1 L441.3,1001.2 L441.7,998.2 L442.2,995.2 L442.7,992.3 L443.1,989.3 L443.5,986.3 L444.1,983.3 L444.6,980.3 L445.2,977.3 L445.3,974.2 L445.9,971.2 L446.9,968.3 L447.4,965.2 L447.9,962.2 L448.4,959.1 L448.9,956.0 L449.5,952.9 L449.8,949.8 L450.1,946.6 L450.7,943.5 L451.4,940.5 L452.1,937.4 L452.8,934.4 L453.4,931.3 L453.9,928.2 L454.5,925.1 L455.1,922.0 L455.6,918.9 L456.4,915.9 L457.3,913.0 L458.1,910.0 L458.8,907.0 L459.7,904.1 L460.5,901.2 L461.5,898.3 L462.5,895.5 L463.4,892.7 L464.2,889.8 L465.3,887.0 L466.6,884.5 L467.7,881.7 L468.7,879.0 L469.9,876.4 L471.3,873.9 L472.5,871.3 L474.0,868.9 L475.5,866.6 L476.8,864.1 L478.1,861.7 L479.5,859.3 L480.9,856.9 L482.5,854.6 L484.2,852.6 L486.0,850.6 L487.7,848.5 L489.4,846.3 L491.4,844.6 L493.4,842.8 L495.3,841.0 L497.3,839.2 L499.2,837.3 L501.3,835.7 L503.3,833.8 L505.5,832.5 L507.8,831.4 L510.0,830.0 L512.2,828.6 L514.5,827.4 L516.9,826.4 L519.0,824.7 L521.3,823.1 L523.7,822.4 L526.1,821.4 L528.5,820.5 L531.0,819.8 L533.4,818.9 L535.9,818.5 L538.4,817.9 L540.8,817.2 L543.3,816.6 L545.9,816.6 L548.4,816.4 L550.8,815.0 L553.2,814.4 L555.8,814.0 L558.3,813.5 L560.8,813.3 L563.3,812.7 L565.8,812.0 L568.4,811.8 L570.9,812.1 L573.4,811.5 L576.0,811.3 L578.5,811.3 L581.0,810.8 L583.6,811.0 L586.1,811.2 L588.6,811.2 L591.1,810.6 L593.6,810.3 L596.1,810.4 L598.6,810.7 L601.1,810.6 L603.6,810.2 L606.1,809.9 L608.6,810.2 L611.1,809.9 L613.6,809.3 L616.1,809.5 L618.6,809.8 L621.0,809.2 L623.5,809.0 L626.0,809.6 L628.5,809.3 L631.0,808.5 L633.4,808.1 L635.9,808.5 L638.4,808.7 L640.9,808.3 L643.4,808.1 L645.9,808.5 L648.4,808.4 L650.9,808.1 L653.4,808.0 L655.8,807.7 L658.3,807.6 L660.8,807.9 L663.3,808.1 L665.9,807.9 L668.4,807.4 L670.9,807.4 L673.4,807.5 L675.9,807.7 L678.4,807.8 L680.9,807.2 L683.5,807.4 L686.0,807.7" stroke="#000" stroke-width="2.55"/>
</g>
</g>
<path class="fr" d="M90,615.2V1122.5H685.8V615.2"/>
<path class="fr2" d="M88.9,616.6H686.9"/>
<path class="tk" d="M91,661.2H102M91,754.2H102M91,846.2H102M91,939.2H102M91,1031.2H102M239.3,1122.2V1111.2M388.6,1122.2V1111.2M538.3,1122.2V1111.2"/>
<text transform="translate(80.8,668.2) scale(0.905,1)" font-size="27.8" text-anchor="end">1.0</text>
<text transform="translate(80.8,761.0) scale(0.905,1)" font-size="27.8" text-anchor="end">0.8</text>
<text transform="translate(80.8,854.6) scale(0.905,1)" font-size="27.8" text-anchor="end">0.6</text>
<text transform="translate(80.8,947.5) scale(0.905,1)" font-size="27.8" text-anchor="end">0.4</text>
<text transform="translate(80.8,1040.8) scale(0.905,1)" font-size="27.8" text-anchor="end">0.2</text>
<text transform="translate(80.8,1133.9) scale(0.905,1)" font-size="27.8" text-anchor="end">0</text>
<text transform="translate(86.8,1152.2) scale(0.905,1)" font-size="27.8" text-anchor="middle">−10</text>
<text transform="translate(236.8,1152.2) scale(0.905,1)" font-size="27.8" text-anchor="middle">−5</text>
<text transform="translate(388.4,1152.2) scale(0.905,1)" font-size="27.8" text-anchor="middle">0</text>
<text transform="translate(538.0,1152.2) scale(0.905,1)" font-size="27.8" text-anchor="middle">5</text>
<text transform="translate(688.2,1152.2) scale(0.905,1)" font-size="27.8" text-anchor="middle">10</text>
<text transform="translate(388.8,1189.5) scale(1.000,1)" font-size="26.5" text-anchor="middle">Gate voltage (V)</text>
<text transform="translate(122.6,657.2) scale(0.990,1)" font-size="26.5" text-anchor="start">(b) #B dry/ROA</text>
<text transform="translate(287.3,874.1) scale(1.012,1)" font-size="26.0" text-anchor="start">300 kHz</text>
<text transform="translate(507.3,1021.2) scale(1.000,1)" font-size="26.0" text-anchor="start">80 kHz</text>
<text transform="translate(18.7,901.4) rotate(-90) scale(0.95,1)" font-size="27.5"><tspan class="it">C</tspan>/<tspan class="it">C</tspan><tspan font-size="15.5" dy="9.3">ox</tspan></text>
<path d="M369.2,883.0L525.6,981.9" stroke="#000" stroke-width="2.2" fill="none"/>
<path d="M535.7,988.3 L517.7,968.1 L519.6,978.1 L509.7,980.7 Z" fill="#000"/>
</svg>
</body>
</html>
